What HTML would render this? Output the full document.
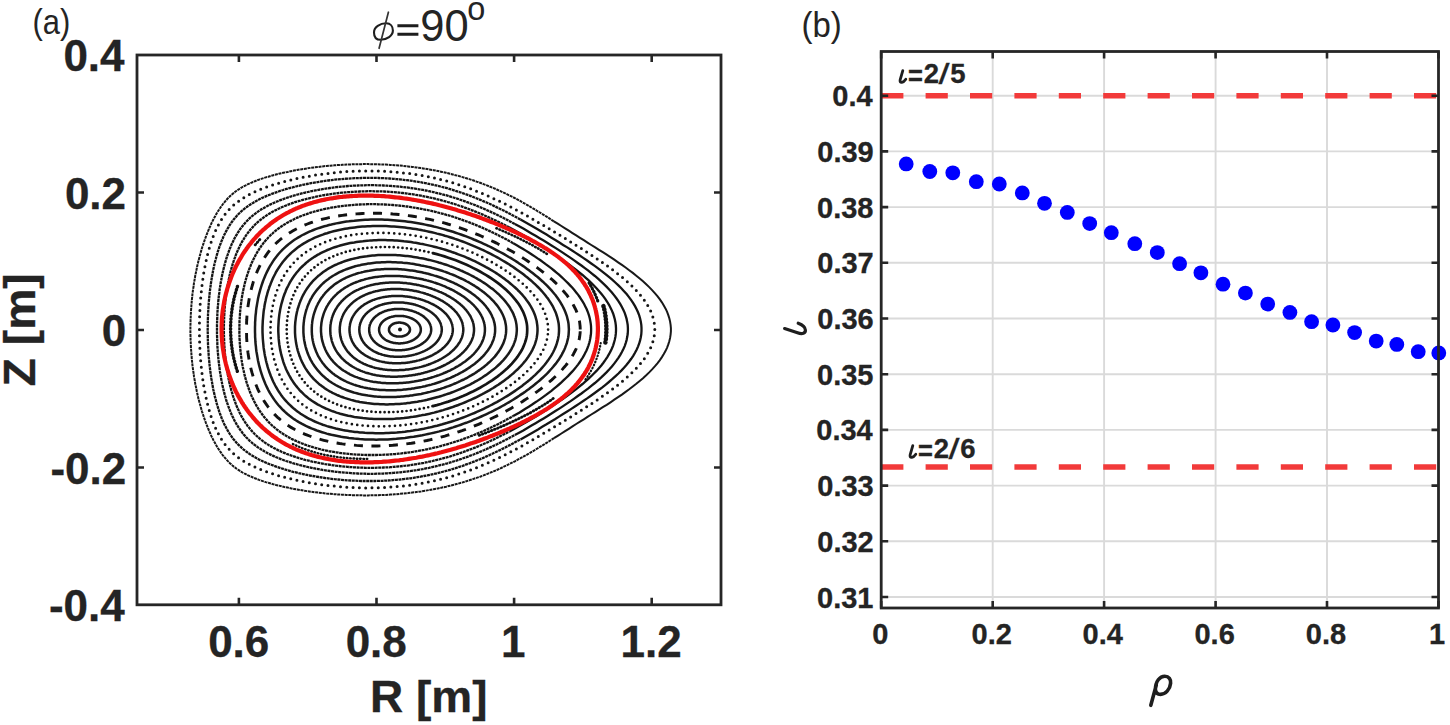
<!DOCTYPE html>
<html><head><meta charset="utf-8"><style>
html,body{margin:0;padding:0;background:#fff;width:1450px;height:725px;overflow:hidden}
svg{display:block}
text{font-family:"Liberation Sans",sans-serif}
</style></head><body>
<svg width="1450" height="725" viewBox="0 0 1450 725">
<rect width="1450" height="725" fill="#fff"/>
<g fill="none">
<path d="M410.0,329.6 410.0,329.5 409.9,329.4 409.9,329.3 409.9,329.1 409.9,329.0 409.9,328.9 409.9,328.8 409.8,328.6 409.8,328.5 409.8,328.4 409.8,328.3 409.7,328.2 409.7,328.1 409.6,327.9 409.6,327.8 409.5,327.7 409.5,327.6 409.4,327.5 409.4,327.4 409.3,327.2 409.2,327.1 409.2,327.0 409.1,326.9 409.0,326.8 409.0,326.7 408.9,326.6 408.8,326.5 408.7,326.4 408.6,326.3 408.5,326.1 408.4,326.0 408.3,325.9 408.2,325.8 408.1,325.7 408.0,325.6 407.9,325.5 407.8,325.4 407.7,325.3 407.6,325.2 407.5,325.1 407.4,325.1 407.2,325.0 407.1,324.9 407.0,324.8 406.9,324.7 406.7,324.6 406.6,324.5 406.5,324.4 406.3,324.4 406.2,324.3 406.0,324.2 405.9,324.1 405.7,324.1 405.6,324.0 405.4,323.9 405.3,323.8 405.1,323.8 405.0,323.7 404.8,323.6 404.7,323.6 404.5,323.5 404.3,323.5 404.2,323.4 404.0,323.3 403.9,323.3 403.7,323.2 403.5,323.2 403.3,323.1 403.2,323.1 403.0,323.1 402.8,323.0 402.7,323.0 402.5,322.9 402.3,322.9 402.1,322.9 401.9,322.8 401.8,322.8 401.6,322.8 401.4,322.8 401.2,322.7 401.0,322.7 400.9,322.7 400.7,322.7 400.5,322.7 400.3,322.6 400.1,322.6 400.0,322.6 399.8,322.6 399.6,322.6 399.4,322.6 399.2,322.6 399.0,322.6 398.9,322.6 398.7,322.6 398.5,322.6 398.3,322.6 398.1,322.7 397.9,322.7 397.8,322.7 397.6,322.7 397.4,322.7 397.2,322.7 397.0,322.8 396.9,322.8 396.7,322.8 396.5,322.9 396.3,322.9 396.2,322.9 396.0,323.0 395.8,323.0 395.7,323.0 395.5,323.1 395.3,323.1 395.1,323.2 395.0,323.2 394.8,323.3 394.7,323.3 394.5,323.4 394.3,323.5 394.2,323.5 394.0,323.6 393.9,323.6 393.7,323.7 393.6,323.8 393.4,323.8 393.3,323.9 393.1,324.0 393.0,324.1 392.8,324.1 392.7,324.2 392.5,324.3 392.4,324.4 392.3,324.5 392.1,324.5 392.0,324.6 391.9,324.7 391.8,324.8 391.6,324.9 391.5,325.0 391.4,325.1 391.3,325.2 391.2,325.3 391.1,325.4 391.0,325.5 390.9,325.6 390.7,325.7 390.6,325.8 390.5,325.9 390.5,326.0 390.4,326.1 390.3,326.2 390.2,326.3 390.1,326.4 390.0,326.5 389.9,326.6 389.9,326.7 389.8,326.8 389.7,327.0 389.7,327.1 389.6,327.2 389.5,327.3 389.5,327.4 389.4,327.5 389.4,327.7 389.3,327.8 389.3,327.9 389.2,328.0 389.2,328.1 389.2,328.3 389.1,328.4 389.1,328.5 389.1,328.6 389.0,328.8 389.0,328.9 389.0,329.0 389.0,329.1 389.0,329.2 389.0,329.4 389.0,329.5 389.0,329.6 389.0,329.7 389.0,329.9 389.0,330.0 389.0,330.1 389.0,330.2 389.0,330.4 389.0,330.5 389.1,330.6 389.1,330.7 389.1,330.8 389.2,331.0 389.2,331.1 389.2,331.2 389.3,331.3 389.3,331.4 389.4,331.6 389.4,331.7 389.5,331.8 389.5,331.9 389.6,332.0 389.7,332.2 389.7,332.3 389.8,332.4 389.9,332.5 389.9,332.6 390.0,332.7 390.1,332.8 390.2,332.9 390.3,333.0 390.4,333.2 390.5,333.3 390.5,333.4 390.6,333.5 390.7,333.6 390.9,333.7 391.0,333.8 391.1,333.9 391.2,334.0 391.3,334.1 391.4,334.2 391.5,334.2 391.6,334.3 391.8,334.4 391.9,334.5 392.0,334.6 392.1,334.7 392.3,334.8 392.4,334.9 392.5,334.9 392.7,335.0 392.8,335.1 393.0,335.2 393.1,335.2 393.3,335.3 393.4,335.4 393.6,335.5 393.7,335.5 393.9,335.6 394.0,335.7 394.2,335.7 394.3,335.8 394.5,335.8 394.7,335.9 394.8,335.9 395.0,336.0 395.1,336.0 395.3,336.1 395.5,336.1 395.7,336.2 395.8,336.2 396.0,336.3 396.2,336.3 396.3,336.3 396.5,336.4 396.7,336.4 396.9,336.4 397.0,336.5 397.2,336.5 397.4,336.5 397.6,336.5 397.8,336.5 397.9,336.6 398.1,336.6 398.3,336.6 398.5,336.6 398.7,336.6 398.9,336.6 399.0,336.6 399.2,336.6 399.4,336.6 399.6,336.6 399.8,336.6 400.0,336.6 400.1,336.6 400.3,336.6 400.5,336.6 400.7,336.6 400.9,336.5 401.0,336.5 401.2,336.5 401.4,336.5 401.6,336.4 401.8,336.4 401.9,336.4 402.1,336.4 402.3,336.3 402.5,336.3 402.7,336.3 402.8,336.2 403.0,336.2 403.2,336.1 403.3,336.1 403.5,336.0 403.7,336.0 403.9,335.9 404.0,335.9 404.2,335.8 404.3,335.8 404.5,335.7 404.7,335.6 404.8,335.6 405.0,335.5 405.1,335.5 405.3,335.4 405.4,335.3 405.6,335.2 405.7,335.2 405.9,335.1 406.0,335.0 406.2,334.9 406.3,334.9 406.5,334.8 406.6,334.7 406.7,334.6 406.9,334.5 407.0,334.4 407.1,334.4 407.2,334.3 407.4,334.2 407.5,334.1 407.6,334.0 407.7,333.9 407.8,333.8 407.9,333.7 408.0,333.6 408.1,333.5 408.2,333.4 408.3,333.3 408.4,333.2 408.5,333.1 408.6,333.0 408.7,332.9 408.8,332.8 408.9,332.7 409.0,332.5 409.0,332.4 409.1,332.3 409.2,332.2 409.2,332.1 409.3,332.0 409.4,331.9 409.4,331.8 409.5,331.6 409.5,331.5 409.6,331.4 409.6,331.3 409.7,331.2 409.7,331.1 409.8,330.9 409.8,330.8 409.8,330.7 409.8,330.6 409.9,330.5 409.9,330.3 409.9,330.2 409.9,330.1 409.9,330.0 409.9,329.9 410.0,329.7 Z" stroke="#1a1a1a" stroke-width="2.5" stroke-linecap="butt"/>
<path d="M420.8,329.6 420.8,329.4 420.8,329.1 420.8,328.9 420.8,328.7 420.8,328.4 420.7,328.2 420.7,328.0 420.6,327.7 420.6,327.5 420.5,327.3 420.5,327.0 420.4,326.8 420.3,326.6 420.2,326.4 420.1,326.1 420.0,325.9 419.9,325.7 419.8,325.4 419.7,325.2 419.6,325.0 419.4,324.8 419.3,324.6 419.2,324.3 419.0,324.1 418.8,323.9 418.7,323.7 418.5,323.5 418.4,323.3 418.2,323.1 418.0,322.9 417.8,322.7 417.6,322.5 417.4,322.3 417.2,322.1 417.0,321.9 416.8,321.7 416.6,321.5 416.3,321.3 416.1,321.1 415.9,320.9 415.6,320.7 415.4,320.6 415.1,320.4 414.9,320.2 414.6,320.0 414.4,319.9 414.1,319.7 413.8,319.5 413.5,319.4 413.3,319.2 413.0,319.1 412.7,318.9 412.4,318.8 412.1,318.6 411.8,318.5 411.5,318.3 411.2,318.2 410.9,318.1 410.6,318.0 410.2,317.8 409.9,317.7 409.6,317.6 409.3,317.5 408.9,317.4 408.6,317.3 408.3,317.2 407.9,317.1 407.6,317.0 407.3,316.9 406.9,316.8 406.6,316.7 406.2,316.6 405.9,316.5 405.5,316.5 405.2,316.4 404.8,316.3 404.5,316.3 404.1,316.2 403.7,316.2 403.4,316.1 403.0,316.1 402.7,316.0 402.3,316.0 401.9,316.0 401.6,315.9 401.2,315.9 400.8,315.9 400.5,315.9 400.1,315.9 399.7,315.9 399.4,315.9 399.0,315.9 398.7,315.9 398.3,315.9 397.9,315.9 397.6,315.9 397.2,315.9 396.8,315.9 396.5,316.0 396.1,316.0 395.8,316.0 395.4,316.1 395.1,316.1 394.7,316.2 394.4,316.2 394.0,316.3 393.7,316.4 393.3,316.4 393.0,316.5 392.6,316.6 392.3,316.7 392.0,316.7 391.6,316.8 391.3,316.9 391.0,317.0 390.6,317.1 390.3,317.2 390.0,317.3 389.7,317.4 389.4,317.6 389.0,317.7 388.7,317.8 388.4,317.9 388.1,318.1 387.8,318.2 387.5,318.3 387.3,318.5 387.0,318.6 386.7,318.8 386.4,318.9 386.1,319.1 385.9,319.2 385.6,319.4 385.3,319.6 385.1,319.7 384.8,319.9 384.6,320.1 384.4,320.2 384.1,320.4 383.9,320.6 383.7,320.8 383.4,321.0 383.2,321.2 383.0,321.4 382.8,321.6 382.6,321.8 382.4,322.0 382.2,322.2 382.0,322.4 381.8,322.6 381.7,322.8 381.5,323.0 381.3,323.2 381.2,323.5 381.0,323.7 380.9,323.9 380.7,324.1 380.6,324.3 380.5,324.6 380.3,324.8 380.2,325.0 380.1,325.3 380.0,325.5 379.9,325.7 379.8,326.0 379.7,326.2 379.6,326.4 379.5,326.7 379.5,326.9 379.4,327.2 379.3,327.4 379.3,327.7 379.2,327.9 379.2,328.1 379.2,328.4 379.1,328.6 379.1,328.9 379.1,329.1 379.1,329.4 379.1,329.6 379.1,329.9 379.1,330.1 379.1,330.4 379.1,330.6 379.2,330.8 379.2,331.1 379.2,331.3 379.3,331.6 379.3,331.8 379.4,332.1 379.5,332.3 379.5,332.5 379.6,332.8 379.7,333.0 379.8,333.3 379.9,333.5 380.0,333.7 380.1,334.0 380.2,334.2 380.3,334.4 380.5,334.7 380.6,334.9 380.7,335.1 380.9,335.3 381.0,335.6 381.2,335.8 381.3,336.0 381.5,336.2 381.7,336.4 381.8,336.6 382.0,336.8 382.2,337.0 382.4,337.3 382.6,337.5 382.8,337.7 383.0,337.9 383.2,338.0 383.4,338.2 383.7,338.4 383.9,338.6 384.1,338.8 384.4,339.0 384.6,339.2 384.8,339.3 385.1,339.5 385.3,339.7 385.6,339.8 385.9,340.0 386.1,340.2 386.4,340.3 386.7,340.5 387.0,340.6 387.3,340.8 387.5,340.9 387.8,341.0 388.1,341.2 388.4,341.3 388.7,341.4 389.0,341.5 389.4,341.7 389.7,341.8 390.0,341.9 390.3,342.0 390.6,342.1 391.0,342.2 391.3,342.3 391.6,342.4 392.0,342.5 392.3,342.6 392.6,342.6 393.0,342.7 393.3,342.8 393.7,342.9 394.0,342.9 394.4,343.0 394.7,343.0 395.1,343.1 395.4,343.1 395.8,343.2 396.1,343.2 396.5,343.3 396.8,343.3 397.2,343.3 397.6,343.3 397.9,343.3 398.3,343.4 398.7,343.4 399.0,343.4 399.4,343.4 399.7,343.4 400.1,343.4 400.5,343.4 400.8,343.3 401.2,343.3 401.6,343.3 401.9,343.3 402.3,343.2 402.7,343.2 403.0,343.2 403.4,343.1 403.7,343.1 404.1,343.0 404.5,343.0 404.8,342.9 405.2,342.8 405.5,342.8 405.9,342.7 406.2,342.6 406.6,342.5 406.9,342.4 407.3,342.4 407.6,342.3 407.9,342.2 408.3,342.1 408.6,342.0 408.9,341.9 409.3,341.7 409.6,341.6 409.9,341.5 410.2,341.4 410.6,341.3 410.9,341.1 411.2,341.0 411.5,340.9 411.8,340.7 412.1,340.6 412.4,340.5 412.7,340.3 413.0,340.2 413.3,340.0 413.5,339.8 413.8,339.7 414.1,339.5 414.4,339.4 414.6,339.2 414.9,339.0 415.1,338.8 415.4,338.7 415.6,338.5 415.9,338.3 416.1,338.1 416.3,337.9 416.6,337.7 416.8,337.6 417.0,337.4 417.2,337.2 417.4,337.0 417.6,336.8 417.8,336.6 418.0,336.4 418.2,336.2 418.4,335.9 418.5,335.7 418.7,335.5 418.8,335.3 419.0,335.1 419.2,334.9 419.3,334.7 419.4,334.4 419.6,334.2 419.7,334.0 419.8,333.8 419.9,333.6 420.0,333.3 420.1,333.1 420.2,332.9 420.3,332.6 420.4,332.4 420.5,332.2 420.5,332.0 420.6,331.7 420.6,331.5 420.7,331.3 420.7,331.0 420.8,330.8 420.8,330.6 420.8,330.3 420.8,330.1 420.8,329.8 Z" stroke="#1a1a1a" stroke-width="2.5" stroke-linecap="butt"/>
<path d="M431.2,329.6 431.2,329.3 431.2,328.9 431.1,328.6 431.1,328.2 431.1,327.9 431.0,327.5 430.9,327.2 430.9,326.8 430.8,326.5 430.7,326.1 430.6,325.8 430.5,325.4 430.4,325.1 430.2,324.8 430.1,324.4 429.9,324.1 429.8,323.8 429.6,323.4 429.4,323.1 429.3,322.8 429.1,322.4 428.9,322.1 428.6,321.8 428.4,321.5 428.2,321.1 428.0,320.8 427.7,320.5 427.5,320.2 427.2,319.9 426.9,319.6 426.6,319.3 426.3,319.0 426.0,318.7 425.7,318.4 425.4,318.1 425.1,317.8 424.8,317.5 424.4,317.2 424.1,316.9 423.7,316.7 423.4,316.4 423.0,316.1 422.6,315.8 422.3,315.6 421.9,315.3 421.5,315.1 421.1,314.8 420.7,314.6 420.3,314.3 419.8,314.1 419.4,313.9 419.0,313.7 418.5,313.4 418.1,313.2 417.6,313.0 417.2,312.8 416.7,312.6 416.3,312.4 415.8,312.2 415.3,312.0 414.8,311.8 414.4,311.6 413.9,311.5 413.4,311.3 412.9,311.1 412.4,311.0 411.9,310.8 411.4,310.7 410.9,310.5 410.4,310.4 409.8,310.3 409.3,310.2 408.8,310.0 408.3,309.9 407.8,309.8 407.2,309.7 406.7,309.6 406.2,309.5 405.6,309.5 405.1,309.4 404.6,309.3 404.0,309.2 403.5,309.2 402.9,309.1 402.4,309.1 401.9,309.0 401.3,309.0 400.8,309.0 400.2,309.0 399.7,308.9 399.1,308.9 398.6,308.9 398.1,308.9 397.5,309.0 397.0,309.0 396.4,309.0 395.9,309.0 395.4,309.1 394.8,309.1 394.3,309.1 393.8,309.2 393.2,309.3 392.7,309.3 392.2,309.4 391.7,309.5 391.2,309.6 390.6,309.7 390.1,309.8 389.6,309.9 389.1,310.0 388.6,310.1 388.1,310.2 387.6,310.3 387.1,310.5 386.6,310.6 386.2,310.8 385.7,310.9 385.2,311.1 384.7,311.2 384.3,311.4 383.8,311.6 383.4,311.8 382.9,312.0 382.5,312.2 382.0,312.4 381.6,312.6 381.2,312.8 380.8,313.0 380.3,313.2 379.9,313.4 379.5,313.7 379.1,313.9 378.7,314.1 378.4,314.4 378.0,314.6 377.6,314.9 377.2,315.2 376.9,315.4 376.5,315.7 376.2,316.0 375.9,316.3 375.5,316.5 375.2,316.8 374.9,317.1 374.6,317.4 374.3,317.7 374.0,318.0 373.7,318.3 373.4,318.6 373.2,319.0 372.9,319.3 372.7,319.6 372.4,319.9 372.2,320.3 372.0,320.6 371.7,320.9 371.5,321.3 371.3,321.6 371.1,322.0 371.0,322.3 370.8,322.7 370.6,323.0 370.5,323.4 370.3,323.7 370.2,324.1 370.0,324.4 369.9,324.8 369.8,325.2 369.7,325.5 369.6,325.9 369.5,326.3 369.4,326.6 369.4,327.0 369.3,327.4 369.3,327.7 369.2,328.1 369.2,328.5 369.2,328.9 369.2,329.2 369.2,329.6 369.2,330.0 369.2,330.4 369.2,330.7 369.2,331.1 369.3,331.5 369.3,331.9 369.4,332.2 369.4,332.6 369.5,333.0 369.6,333.3 369.7,333.7 369.8,334.1 369.9,334.4 370.0,334.8 370.2,335.1 370.3,335.5 370.5,335.9 370.6,336.2 370.8,336.6 371.0,336.9 371.1,337.3 371.3,337.6 371.5,338.0 371.7,338.3 372.0,338.6 372.2,339.0 372.4,339.3 372.7,339.6 372.9,339.9 373.2,340.3 373.4,340.6 373.7,340.9 374.0,341.2 374.3,341.5 374.6,341.8 374.9,342.1 375.2,342.4 375.5,342.7 375.9,343.0 376.2,343.3 376.5,343.5 376.9,343.8 377.2,344.1 377.6,344.3 378.0,344.6 378.4,344.8 378.7,345.1 379.1,345.3 379.5,345.6 379.9,345.8 380.3,346.0 380.8,346.2 381.2,346.5 381.6,346.7 382.0,346.9 382.5,347.1 382.9,347.3 383.4,347.5 383.8,347.6 384.3,347.8 384.7,348.0 385.2,348.2 385.7,348.3 386.2,348.5 386.6,348.6 387.1,348.8 387.6,348.9 388.1,349.0 388.6,349.1 389.1,349.3 389.6,349.4 390.1,349.5 390.6,349.6 391.2,349.7 391.7,349.7 392.2,349.8 392.7,349.9 393.2,350.0 393.8,350.0 394.3,350.1 394.8,350.1 395.4,350.2 395.9,350.2 396.4,350.2 397.0,350.3 397.5,350.3 398.1,350.3 398.6,350.3 399.1,350.3 399.7,350.3 400.2,350.3 400.8,350.2 401.3,350.2 401.9,350.2 402.4,350.1 402.9,350.1 403.5,350.0 404.0,350.0 404.6,349.9 405.1,349.8 405.6,349.8 406.2,349.7 406.7,349.6 407.2,349.5 407.8,349.4 408.3,349.3 408.8,349.2 409.3,349.1 409.8,348.9 410.4,348.8 410.9,348.7 411.4,348.5 411.9,348.4 412.4,348.2 412.9,348.1 413.4,347.9 413.9,347.8 414.4,347.6 414.8,347.4 415.3,347.2 415.8,347.0 416.3,346.8 416.7,346.6 417.2,346.4 417.6,346.2 418.1,346.0 418.5,345.8 419.0,345.6 419.4,345.3 419.8,345.1 420.3,344.9 420.7,344.6 421.1,344.4 421.5,344.1 421.9,343.9 422.3,343.6 422.6,343.4 423.0,343.1 423.4,342.8 423.7,342.6 424.1,342.3 424.4,342.0 424.8,341.7 425.1,341.4 425.4,341.2 425.7,340.9 426.0,340.6 426.3,340.3 426.6,340.0 426.9,339.7 427.2,339.4 427.5,339.0 427.7,338.7 428.0,338.4 428.2,338.1 428.4,337.8 428.6,337.5 428.9,337.1 429.1,336.8 429.3,336.5 429.4,336.1 429.6,335.8 429.8,335.5 429.9,335.1 430.1,334.8 430.2,334.5 430.4,334.1 430.5,333.8 430.6,333.4 430.7,333.1 430.8,332.7 430.9,332.4 430.9,332.1 431.0,331.7 431.1,331.4 431.1,331.0 431.1,330.7 431.2,330.3 431.2,330.0 Z" stroke="#1a1a1a" stroke-width="2.5" stroke-linecap="butt"/>
<path d="M441.8,329.6 441.8,329.2 441.7,328.7 441.7,328.2 441.7,327.8 441.6,327.3 441.5,326.9 441.4,326.4 441.3,326.0 441.2,325.5 441.1,325.1 441.0,324.6 440.8,324.2 440.7,323.7 440.5,323.3 440.3,322.9 440.1,322.4 439.9,322.0 439.7,321.5 439.4,321.1 439.2,320.7 438.9,320.3 438.6,319.8 438.4,319.4 438.1,319.0 437.8,318.6 437.4,318.1 437.1,317.7 436.8,317.3 436.4,316.9 436.0,316.5 435.7,316.1 435.3,315.7 434.9,315.3 434.5,314.9 434.0,314.6 433.6,314.2 433.2,313.8 432.7,313.4 432.3,313.1 431.8,312.7 431.3,312.3 430.8,312.0 430.3,311.6 429.8,311.3 429.3,311.0 428.8,310.6 428.2,310.3 427.7,310.0 427.1,309.7 426.6,309.4 426.0,309.1 425.4,308.8 424.8,308.5 424.2,308.2 423.6,307.9 423.0,307.6 422.4,307.3 421.8,307.1 421.2,306.8 420.5,306.6 419.9,306.3 419.3,306.1 418.6,305.9 417.9,305.6 417.3,305.4 416.6,305.2 415.9,305.0 415.3,304.8 414.6,304.6 413.9,304.5 413.2,304.3 412.5,304.1 411.8,304.0 411.1,303.8 410.4,303.7 409.7,303.5 409.0,303.4 408.3,303.3 407.6,303.2 406.9,303.1 406.2,303.0 405.4,302.9 404.7,302.8 404.0,302.7 403.3,302.6 402.6,302.6 401.8,302.5 401.1,302.5 400.4,302.5 399.7,302.4 399.0,302.4 398.2,302.4 397.5,302.4 396.8,302.4 396.1,302.4 395.4,302.5 394.7,302.5 393.9,302.5 393.2,302.6 392.5,302.6 391.8,302.7 391.1,302.8 390.4,302.9 389.7,303.0 389.0,303.1 388.4,303.2 387.7,303.3 387.0,303.4 386.3,303.5 385.7,303.7 385.0,303.8 384.3,304.0 383.7,304.2 383.0,304.3 382.4,304.5 381.7,304.7 381.1,304.9 380.5,305.1 379.9,305.3 379.2,305.5 378.6,305.8 378.0,306.0 377.4,306.3 376.9,306.5 376.3,306.8 375.7,307.0 375.1,307.3 374.6,307.6 374.0,307.9 373.5,308.2 373.0,308.5 372.4,308.8 371.9,309.1 371.4,309.4 370.9,309.8 370.4,310.1 370.0,310.4 369.5,310.8 369.0,311.2 368.6,311.5 368.1,311.9 367.7,312.3 367.3,312.6 366.9,313.0 366.5,313.4 366.1,313.8 365.7,314.2 365.3,314.6 365.0,315.0 364.6,315.5 364.3,315.9 363.9,316.3 363.6,316.8 363.3,317.2 363.0,317.6 362.7,318.1 362.5,318.5 362.2,319.0 361.9,319.4 361.7,319.9 361.5,320.4 361.3,320.8 361.0,321.3 360.9,321.8 360.7,322.3 360.5,322.7 360.3,323.2 360.2,323.7 360.1,324.2 359.9,324.7 359.8,325.2 359.7,325.7 359.6,326.1 359.5,326.6 359.5,327.1 359.4,327.6 359.4,328.1 359.4,328.6 359.3,329.1 359.3,329.6 359.3,330.1 359.4,330.6 359.4,331.1 359.4,331.6 359.5,332.1 359.5,332.6 359.6,333.1 359.7,333.6 359.8,334.1 359.9,334.6 360.1,335.0 360.2,335.5 360.3,336.0 360.5,336.5 360.7,337.0 360.9,337.5 361.0,337.9 361.3,338.4 361.5,338.9 361.7,339.3 361.9,339.8 362.2,340.2 362.5,340.7 362.7,341.2 363.0,341.6 363.3,342.0 363.6,342.5 363.9,342.9 364.3,343.3 364.6,343.8 365.0,344.2 365.3,344.6 365.7,345.0 366.1,345.4 366.5,345.8 366.9,346.2 367.3,346.6 367.7,347.0 368.1,347.3 368.6,347.7 369.0,348.1 369.5,348.4 370.0,348.8 370.4,349.1 370.9,349.5 371.4,349.8 371.9,350.1 372.4,350.4 373.0,350.7 373.5,351.1 374.0,351.4 374.6,351.6 375.1,351.9 375.7,352.2 376.3,352.5 376.9,352.7 377.4,353.0 378.0,353.2 378.6,353.5 379.2,353.7 379.9,353.9 380.5,354.1 381.1,354.3 381.7,354.5 382.4,354.7 383.0,354.9 383.7,355.1 384.3,355.2 385.0,355.4 385.7,355.5 386.3,355.7 387.0,355.8 387.7,355.9 388.4,356.1 389.0,356.2 389.7,356.3 390.4,356.4 391.1,356.4 391.8,356.5 392.5,356.6 393.2,356.6 393.9,356.7 394.7,356.7 395.4,356.8 396.1,356.8 396.8,356.8 397.5,356.8 398.2,356.8 399.0,356.8 399.7,356.8 400.4,356.8 401.1,356.7 401.8,356.7 402.6,356.6 403.3,356.6 404.0,356.5 404.7,356.4 405.4,356.4 406.2,356.3 406.9,356.2 407.6,356.1 408.3,356.0 409.0,355.8 409.7,355.7 410.4,355.6 411.1,355.4 411.8,355.3 412.5,355.1 413.2,354.9 413.9,354.8 414.6,354.6 415.3,354.4 415.9,354.2 416.6,354.0 417.3,353.8 417.9,353.6 418.6,353.4 419.3,353.1 419.9,352.9 420.5,352.6 421.2,352.4 421.8,352.1 422.4,351.9 423.0,351.6 423.6,351.3 424.2,351.1 424.8,350.8 425.4,350.5 426.0,350.2 426.6,349.9 427.1,349.6 427.7,349.2 428.2,348.9 428.8,348.6 429.3,348.3 429.8,347.9 430.3,347.6 430.8,347.2 431.3,346.9 431.8,346.5 432.3,346.2 432.7,345.8 433.2,345.4 433.6,345.0 434.0,344.7 434.5,344.3 434.9,343.9 435.3,343.5 435.7,343.1 436.0,342.7 436.4,342.3 436.8,341.9 437.1,341.5 437.4,341.1 437.8,340.7 438.1,340.2 438.4,339.8 438.6,339.4 438.9,339.0 439.2,338.5 439.4,338.1 439.7,337.7 439.9,337.2 440.1,336.8 440.3,336.4 440.5,335.9 440.7,335.5 440.8,335.0 441.0,334.6 441.1,334.1 441.2,333.7 441.3,333.2 441.4,332.8 441.5,332.3 441.6,331.9 441.7,331.4 441.7,331.0 441.7,330.5 441.8,330.1 Z" stroke="#1a1a1a" stroke-width="2.5" stroke-linecap="butt"/>
<path d="M452.8,329.6 452.8,329.1 452.8,328.5 452.8,327.9 452.7,327.4 452.6,326.8 452.5,326.3 452.4,325.7 452.3,325.2 452.2,324.6 452.0,324.1 451.8,323.5 451.6,323.0 451.4,322.4 451.2,321.9 451.0,321.3 450.7,320.8 450.5,320.3 450.2,319.7 449.9,319.2 449.6,318.7 449.2,318.1 448.9,317.6 448.5,317.1 448.1,316.6 447.8,316.1 447.4,315.6 446.9,315.0 446.5,314.5 446.1,314.0 445.6,313.6 445.1,313.1 444.6,312.6 444.1,312.1 443.6,311.6 443.1,311.1 442.5,310.7 442.0,310.2 441.4,309.8 440.8,309.3 440.2,308.9 439.6,308.4 439.0,308.0 438.4,307.6 437.7,307.1 437.1,306.7 436.4,306.3 435.7,305.9 435.0,305.5 434.3,305.1 433.6,304.7 432.9,304.3 432.2,304.0 431.4,303.6 430.7,303.3 429.9,302.9 429.2,302.6 428.4,302.2 427.6,301.9 426.8,301.6 426.0,301.3 425.2,301.0 424.4,300.7 423.6,300.4 422.8,300.1 421.9,299.8 421.1,299.6 420.3,299.3 419.4,299.1 418.6,298.8 417.7,298.6 416.8,298.4 416.0,298.2 415.1,298.0 414.2,297.8 413.3,297.6 412.4,297.4 411.5,297.3 410.6,297.1 409.8,297.0 408.9,296.8 408.0,296.7 407.1,296.6 406.1,296.5 405.2,296.4 404.3,296.3 403.4,296.2 402.5,296.1 401.6,296.1 400.7,296.0 399.8,296.0 398.9,296.0 398.0,296.0 397.1,295.9 396.2,295.9 395.3,296.0 394.4,296.0 393.5,296.0 392.6,296.1 391.7,296.1 390.8,296.2 390.0,296.3 389.1,296.3 388.2,296.4 387.3,296.6 386.5,296.7 385.6,296.8 384.8,296.9 383.9,297.1 383.1,297.2 382.2,297.4 381.4,297.6 380.6,297.8 379.7,298.0 378.9,298.2 378.1,298.4 377.3,298.6 376.5,298.9 375.8,299.1 375.0,299.4 374.2,299.7 373.5,299.9 372.7,300.2 372.0,300.5 371.2,300.8 370.5,301.2 369.8,301.5 369.1,301.8 368.4,302.2 367.7,302.5 367.1,302.9 366.4,303.3 365.7,303.6 365.1,304.0 364.5,304.4 363.9,304.8 363.3,305.3 362.7,305.7 362.1,306.1 361.5,306.6 360.9,307.0 360.4,307.5 359.9,307.9 359.3,308.4 358.8,308.9 358.3,309.4 357.8,309.9 357.4,310.4 356.9,310.9 356.5,311.4 356.0,311.9 355.6,312.4 355.2,313.0 354.8,313.5 354.4,314.1 354.1,314.6 353.7,315.2 353.4,315.7 353.0,316.3 352.7,316.9 352.4,317.4 352.1,318.0 351.9,318.6 351.6,319.2 351.4,319.8 351.2,320.4 350.9,321.0 350.7,321.6 350.6,322.2 350.4,322.8 350.2,323.4 350.1,324.0 350.0,324.6 349.9,325.3 349.8,325.9 349.7,326.5 349.6,327.1 349.6,327.7 349.5,328.4 349.5,329.0 349.5,329.6 349.5,330.2 349.5,330.9 349.6,331.5 349.6,332.1 349.7,332.7 349.8,333.3 349.9,334.0 350.0,334.6 350.1,335.2 350.2,335.8 350.4,336.4 350.6,337.0 350.7,337.6 350.9,338.2 351.2,338.8 351.4,339.4 351.6,340.0 351.9,340.6 352.1,341.2 352.4,341.8 352.7,342.4 353.0,342.9 353.4,343.5 353.7,344.1 354.1,344.6 354.4,345.2 354.8,345.7 355.2,346.2 355.6,346.8 356.0,347.3 356.5,347.8 356.9,348.3 357.4,348.9 357.8,349.4 358.3,349.9 358.8,350.3 359.3,350.8 359.9,351.3 360.4,351.8 360.9,352.2 361.5,352.7 362.1,353.1 362.7,353.5 363.3,354.0 363.9,354.4 364.5,354.8 365.1,355.2 365.7,355.6 366.4,356.0 367.1,356.3 367.7,356.7 368.4,357.1 369.1,357.4 369.8,357.7 370.5,358.1 371.2,358.4 372.0,358.7 372.7,359.0 373.5,359.3 374.2,359.6 375.0,359.8 375.8,360.1 376.5,360.3 377.3,360.6 378.1,360.8 378.9,361.0 379.7,361.2 380.6,361.4 381.4,361.6 382.2,361.8 383.1,362.0 383.9,362.1 384.8,362.3 385.6,362.4 386.5,362.6 387.3,362.7 388.2,362.8 389.1,362.9 390.0,363.0 390.8,363.0 391.7,363.1 392.6,363.2 393.5,363.2 394.4,363.2 395.3,363.3 396.2,363.3 397.1,363.3 398.0,363.3 398.9,363.3 399.8,363.2 400.7,363.2 401.6,363.1 402.5,363.1 403.4,363.0 404.3,362.9 405.2,362.9 406.1,362.8 407.1,362.7 408.0,362.5 408.9,362.4 409.8,362.3 410.6,362.1 411.5,362.0 412.4,361.8 413.3,361.6 414.2,361.5 415.1,361.3 416.0,361.1 416.8,360.8 417.7,360.6 418.6,360.4 419.4,360.2 420.3,359.9 421.1,359.7 421.9,359.4 422.8,359.1 423.6,358.8 424.4,358.6 425.2,358.3 426.0,358.0 426.8,357.6 427.6,357.3 428.4,357.0 429.2,356.7 429.9,356.3 430.7,356.0 431.4,355.6 432.2,355.3 432.9,354.9 433.6,354.5 434.3,354.1 435.0,353.7 435.7,353.3 436.4,352.9 437.1,352.5 437.7,352.1 438.4,351.7 439.0,351.2 439.6,350.8 440.2,350.4 440.8,349.9 441.4,349.5 442.0,349.0 442.5,348.5 443.1,348.1 443.6,347.6 444.1,347.1 444.6,346.7 445.1,346.2 445.6,345.7 446.1,345.2 446.5,344.7 446.9,344.2 447.4,343.7 447.8,343.2 448.1,342.6 448.5,342.1 448.9,341.6 449.2,341.1 449.6,340.6 449.9,340.0 450.2,339.5 450.5,339.0 450.7,338.4 451.0,337.9 451.2,337.3 451.4,336.8 451.6,336.3 451.8,335.7 452.0,335.2 452.2,334.6 452.3,334.1 452.4,333.5 452.5,333.0 452.6,332.4 452.7,331.8 452.8,331.3 452.8,330.7 452.8,330.2 Z" stroke="#1a1a1a" stroke-width="2.5" stroke-linecap="butt"/>
<path d="M463.3,329.6 463.3,328.9 463.2,328.3 463.2,327.6 463.1,327.0 463.0,326.3 462.9,325.6 462.8,325.0 462.6,324.3 462.5,323.6 462.3,323.0 462.1,322.3 461.9,321.7 461.6,321.0 461.3,320.4 461.1,319.7 460.7,319.1 460.4,318.4 460.1,317.8 459.7,317.2 459.3,316.5 458.9,315.9 458.5,315.3 458.1,314.7 457.6,314.0 457.2,313.4 456.7,312.8 456.2,312.2 455.6,311.6 455.1,311.0 454.5,310.4 454.0,309.8 453.4,309.2 452.8,308.7 452.1,308.1 451.5,307.5 450.9,307.0 450.2,306.4 449.5,305.9 448.8,305.3 448.1,304.8 447.3,304.3 446.6,303.7 445.8,303.2 445.1,302.7 444.3,302.2 443.5,301.7 442.7,301.2 441.8,300.7 441.0,300.3 440.2,299.8 439.3,299.3 438.4,298.9 437.5,298.5 436.6,298.0 435.7,297.6 434.8,297.2 433.9,296.8 432.9,296.4 432.0,296.0 431.0,295.6 430.1,295.2 429.1,294.9 428.1,294.5 427.1,294.2 426.1,293.9 425.1,293.5 424.1,293.2 423.1,292.9 422.0,292.6 421.0,292.4 420.0,292.1 418.9,291.8 417.9,291.6 416.8,291.3 415.8,291.1 414.7,290.9 413.6,290.7 412.6,290.5 411.5,290.3 410.4,290.2 409.3,290.0 408.3,289.8 407.2,289.7 406.1,289.6 405.0,289.5 403.9,289.4 402.8,289.3 401.7,289.2 400.7,289.1 399.6,289.1 398.5,289.1 397.4,289.0 396.3,289.0 395.2,289.0 394.2,289.0 393.1,289.0 392.0,289.1 391.0,289.1 389.9,289.2 388.8,289.2 387.8,289.3 386.7,289.4 385.7,289.5 384.6,289.7 383.6,289.8 382.6,289.9 381.6,290.1 380.5,290.3 379.5,290.5 378.5,290.7 377.5,290.9 376.6,291.1 375.6,291.3 374.6,291.6 373.7,291.8 372.7,292.1 371.8,292.4 370.8,292.7 369.9,293.0 369.0,293.3 368.1,293.6 367.2,294.0 366.3,294.3 365.5,294.7 364.6,295.1 363.8,295.5 362.9,295.9 362.1,296.3 361.3,296.7 360.5,297.2 359.7,297.6 358.9,298.1 358.2,298.5 357.4,299.0 356.7,299.5 356.0,300.0 355.3,300.5 354.6,301.0 353.9,301.6 353.2,302.1 352.6,302.7 352.0,303.2 351.3,303.8 350.7,304.4 350.1,305.0 349.6,305.6 349.0,306.2 348.5,306.8 347.9,307.4 347.4,308.0 346.9,308.7 346.5,309.3 346.0,310.0 345.5,310.7 345.1,311.3 344.7,312.0 344.3,312.7 343.9,313.4 343.5,314.1 343.2,314.8 342.9,315.5 342.5,316.2 342.2,316.9 342.0,317.6 341.7,318.4 341.4,319.1 341.2,319.8 341.0,320.6 340.8,321.3 340.6,322.0 340.4,322.8 340.3,323.5 340.2,324.3 340.1,325.1 340.0,325.8 339.9,326.6 339.8,327.3 339.8,328.1 339.8,328.9 339.7,329.6 339.8,330.4 339.8,331.1 339.8,331.9 339.9,332.7 340.0,333.4 340.1,334.2 340.2,334.9 340.3,335.7 340.4,336.4 340.6,337.2 340.8,337.9 341.0,338.7 341.2,339.4 341.4,340.1 341.7,340.9 342.0,341.6 342.2,342.3 342.5,343.0 342.9,343.7 343.2,344.5 343.5,345.2 343.9,345.9 344.3,346.5 344.7,347.2 345.1,347.9 345.5,348.6 346.0,349.2 346.5,349.9 346.9,350.5 347.4,351.2 347.9,351.8 348.5,352.4 349.0,353.1 349.6,353.7 350.1,354.3 350.7,354.8 351.3,355.4 352.0,356.0 352.6,356.6 353.2,357.1 353.9,357.7 354.6,358.2 355.3,358.7 356.0,359.2 356.7,359.7 357.4,360.2 358.2,360.7 358.9,361.2 359.7,361.6 360.5,362.1 361.3,362.5 362.1,362.9 362.9,363.3 363.8,363.8 364.6,364.1 365.5,364.5 366.3,364.9 367.2,365.2 368.1,365.6 369.0,365.9 369.9,366.2 370.8,366.6 371.8,366.8 372.7,367.1 373.7,367.4 374.6,367.7 375.6,367.9 376.6,368.1 377.5,368.4 378.5,368.6 379.5,368.8 380.5,369.0 381.6,369.1 382.6,369.3 383.6,369.4 384.6,369.6 385.7,369.7 386.7,369.8 387.8,369.9 388.8,370.0 389.9,370.1 391.0,370.1 392.0,370.2 393.1,370.2 394.2,370.2 395.2,370.2 396.3,370.2 397.4,370.2 398.5,370.2 399.6,370.1 400.7,370.1 401.7,370.0 402.8,369.9 403.9,369.9 405.0,369.8 406.1,369.6 407.2,369.5 408.3,369.4 409.3,369.2 410.4,369.1 411.5,368.9 412.6,368.7 413.6,368.5 414.7,368.3 415.8,368.1 416.8,367.9 417.9,367.6 418.9,367.4 420.0,367.1 421.0,366.9 422.0,366.6 423.1,366.3 424.1,366.0 425.1,365.7 426.1,365.4 427.1,365.0 428.1,364.7 429.1,364.3 430.1,364.0 431.0,363.6 432.0,363.2 432.9,362.8 433.9,362.4 434.8,362.0 435.7,361.6 436.6,361.2 437.5,360.8 438.4,360.3 439.3,359.9 440.2,359.4 441.0,359.0 441.8,358.5 442.7,358.0 443.5,357.5 444.3,357.0 445.1,356.5 445.8,356.0 446.6,355.5 447.3,355.0 448.1,354.4 448.8,353.9 449.5,353.4 450.2,352.8 450.9,352.3 451.5,351.7 452.1,351.1 452.8,350.6 453.4,350.0 454.0,349.4 454.5,348.8 455.1,348.2 455.6,347.6 456.2,347.0 456.7,346.4 457.2,345.8 457.6,345.2 458.1,344.6 458.5,343.9 458.9,343.3 459.3,342.7 459.7,342.1 460.1,341.4 460.4,340.8 460.7,340.1 461.1,339.5 461.3,338.8 461.6,338.2 461.9,337.5 462.1,336.9 462.3,336.2 462.5,335.6 462.6,334.9 462.8,334.3 462.9,333.6 463.0,332.9 463.1,332.3 463.2,331.6 463.2,330.9 463.3,330.3 Z" stroke="#1a1a1a" stroke-width="2.5" stroke-linecap="butt"/>
<path d="M474.0,329.6 474.0,328.8 474.0,328.1 473.9,327.3 473.8,326.6 473.7,325.8 473.6,325.0 473.5,324.3 473.3,323.5 473.1,322.8 472.9,322.0 472.6,321.3 472.3,320.5 472.1,319.8 471.7,319.0 471.4,318.3 471.0,317.5 470.7,316.8 470.3,316.0 469.8,315.3 469.4,314.6 468.9,313.9 468.4,313.1 467.9,312.4 467.4,311.7 466.8,311.0 466.3,310.3 465.7,309.6 465.0,308.9 464.4,308.2 463.8,307.5 463.1,306.9 462.4,306.2 461.7,305.5 460.9,304.9 460.2,304.2 459.4,303.6 458.6,302.9 457.8,302.3 457.0,301.7 456.2,301.0 455.3,300.4 454.4,299.8 453.6,299.2 452.7,298.6 451.7,298.1 450.8,297.5 449.8,296.9 448.9,296.4 447.9,295.8 446.9,295.3 445.9,294.7 444.9,294.2 443.8,293.7 442.8,293.2 441.7,292.7 440.7,292.2 439.6,291.8 438.5,291.3 437.4,290.8 436.2,290.4 435.1,290.0 434.0,289.5 432.8,289.1 431.7,288.7 430.5,288.3 429.3,288.0 428.1,287.6 427.0,287.3 425.8,286.9 424.5,286.6 423.3,286.3 422.1,286.0 420.9,285.7 419.7,285.4 418.4,285.1 417.2,284.9 415.9,284.6 414.7,284.4 413.4,284.2 412.2,284.0 410.9,283.8 409.6,283.6 408.4,283.4 407.1,283.3 405.9,283.1 404.6,283.0 403.3,282.9 402.1,282.8 400.8,282.7 399.5,282.6 398.3,282.6 397.0,282.5 395.7,282.5 394.5,282.5 393.2,282.5 392.0,282.5 390.7,282.6 389.5,282.6 388.2,282.7 387.0,282.7 385.8,282.8 384.6,282.9 383.3,283.0 382.1,283.2 380.9,283.3 379.7,283.5 378.5,283.7 377.4,283.9 376.2,284.1 375.0,284.3 373.9,284.5 372.7,284.8 371.6,285.0 370.5,285.3 369.4,285.6 368.3,285.9 367.2,286.2 366.1,286.6 365.0,286.9 364.0,287.3 362.9,287.7 361.9,288.1 360.9,288.5 359.9,288.9 358.9,289.3 357.9,289.8 356.9,290.2 356.0,290.7 355.0,291.2 354.1,291.7 353.2,292.2 352.3,292.7 351.4,293.3 350.6,293.8 349.7,294.4 348.9,295.0 348.1,295.6 347.3,296.2 346.5,296.8 345.7,297.4 345.0,298.1 344.3,298.7 343.6,299.4 342.9,300.1 342.2,300.8 341.5,301.4 340.9,302.2 340.3,302.9 339.7,303.6 339.1,304.3 338.5,305.1 337.9,305.8 337.4,306.6 336.9,307.4 336.4,308.2 335.9,308.9 335.5,309.7 335.0,310.6 334.6,311.4 334.2,312.2 333.8,313.0 333.5,313.9 333.1,314.7 332.8,315.5 332.5,316.4 332.2,317.2 331.9,318.1 331.7,319.0 331.5,319.8 331.3,320.7 331.1,321.6 330.9,322.5 330.8,323.4 330.6,324.3 330.5,325.1 330.4,326.0 330.4,326.9 330.3,327.8 330.3,328.7 330.3,329.6 330.3,330.5 330.3,331.4 330.4,332.3 330.4,333.2 330.5,334.1 330.6,335.0 330.8,335.9 330.9,336.7 331.1,337.6 331.3,338.5 331.5,339.4 331.7,340.3 331.9,341.1 332.2,342.0 332.5,342.8 332.8,343.7 333.1,344.5 333.5,345.4 333.8,346.2 334.2,347.0 334.6,347.9 335.0,348.7 335.5,349.5 335.9,350.3 336.4,351.1 336.9,351.9 337.4,352.6 337.9,353.4 338.5,354.1 339.1,354.9 339.7,355.6 340.3,356.4 340.9,357.1 341.5,357.8 342.2,358.5 342.9,359.2 343.6,359.8 344.3,360.5 345.0,361.2 345.7,361.8 346.5,362.4 347.3,363.0 348.1,363.6 348.9,364.2 349.7,364.8 350.6,365.4 351.4,365.9 352.3,366.5 353.2,367.0 354.1,367.5 355.0,368.0 356.0,368.5 356.9,369.0 357.9,369.5 358.9,369.9 359.9,370.3 360.9,370.8 361.9,371.2 362.9,371.6 364.0,371.9 365.0,372.3 366.1,372.7 367.2,373.0 368.3,373.3 369.4,373.6 370.5,373.9 371.6,374.2 372.7,374.5 373.9,374.7 375.0,374.9 376.2,375.2 377.4,375.4 378.5,375.6 379.7,375.7 380.9,375.9 382.1,376.0 383.3,376.2 384.6,376.3 385.8,376.4 387.0,376.5 388.2,376.6 389.5,376.6 390.7,376.7 392.0,376.7 393.2,376.7 394.5,376.7 395.7,376.7 397.0,376.7 398.3,376.6 399.5,376.6 400.8,376.5 402.1,376.4 403.3,376.3 404.6,376.2 405.9,376.1 407.1,376.0 408.4,375.8 409.6,375.6 410.9,375.5 412.2,375.3 413.4,375.1 414.7,374.9 415.9,374.6 417.2,374.4 418.4,374.1 419.7,373.9 420.9,373.6 422.1,373.3 423.3,373.0 424.5,372.6 425.8,372.3 427.0,372.0 428.1,371.6 429.3,371.3 430.5,370.9 431.7,370.5 432.8,370.1 434.0,369.7 435.1,369.3 436.2,368.8 437.4,368.4 438.5,367.9 439.6,367.5 440.7,367.0 441.7,366.5 442.8,366.0 443.8,365.5 444.9,365.0 445.9,364.5 446.9,363.9 447.9,363.4 448.9,362.9 449.8,362.3 450.8,361.7 451.7,361.2 452.7,360.6 453.6,360.0 454.4,359.4 455.3,358.8 456.2,358.2 457.0,357.6 457.8,356.9 458.6,356.3 459.4,355.7 460.2,355.0 460.9,354.4 461.7,353.7 462.4,353.0 463.1,352.4 463.8,351.7 464.4,351.0 465.0,350.3 465.7,349.6 466.3,348.9 466.8,348.2 467.4,347.5 467.9,346.8 468.4,346.1 468.9,345.4 469.4,344.6 469.8,343.9 470.3,343.2 470.7,342.4 471.0,341.7 471.4,341.0 471.7,340.2 472.1,339.5 472.3,338.7 472.6,338.0 472.9,337.2 473.1,336.5 473.3,335.7 473.5,334.9 473.6,334.2 473.7,333.4 473.8,332.7 473.9,331.9 474.0,331.1 474.0,330.4 Z" stroke="#1a1a1a" stroke-width="2.5" stroke-linecap="butt"/>
<path d="M484.9,329.6 484.9,328.8 484.9,327.9 484.8,327.0 484.7,326.2 484.6,325.3 484.5,324.4 484.3,323.6 484.1,322.7 483.8,321.9 483.6,321.0 483.3,320.2 483.0,319.3 482.7,318.5 482.3,317.6 481.9,316.8 481.5,316.0 481.1,315.1 480.6,314.3 480.1,313.5 479.6,312.6 479.0,311.8 478.5,311.0 477.9,310.2 477.3,309.4 476.6,308.6 476.0,307.8 475.3,307.0 474.6,306.2 473.9,305.4 473.1,304.7 472.3,303.9 471.5,303.1 470.7,302.4 469.9,301.6 469.0,300.9 468.1,300.2 467.2,299.4 466.3,298.7 465.4,298.0 464.4,297.3 463.4,296.6 462.4,295.9 461.4,295.2 460.4,294.6 459.3,293.9 458.2,293.3 457.1,292.6 456.0,292.0 454.9,291.4 453.8,290.7 452.6,290.1 451.4,289.5 450.3,289.0 449.1,288.4 447.8,287.8 446.6,287.3 445.4,286.7 444.1,286.2 442.8,285.7 441.6,285.2 440.3,284.7 439.0,284.2 437.7,283.7 436.3,283.2 435.0,282.8 433.7,282.4 432.3,281.9 430.9,281.5 429.6,281.1 428.2,280.7 426.8,280.4 425.4,280.0 424.0,279.7 422.6,279.3 421.2,279.0 419.7,278.7 418.3,278.4 416.9,278.2 415.5,277.9 414.0,277.7 412.6,277.4 411.1,277.2 409.7,277.0 408.2,276.9 406.8,276.7 405.3,276.5 403.9,276.4 402.4,276.3 401.0,276.2 399.5,276.1 398.1,276.0 396.7,276.0 395.2,275.9 393.8,275.9 392.3,275.9 390.9,275.9 389.5,275.9 388.1,276.0 386.7,276.0 385.2,276.1 383.8,276.2 382.4,276.3 381.1,276.4 379.7,276.6 378.3,276.7 376.9,276.9 375.6,277.1 374.2,277.3 372.9,277.5 371.6,277.8 370.3,278.0 369.0,278.3 367.7,278.6 366.4,278.9 365.1,279.2 363.9,279.6 362.6,280.0 361.4,280.3 360.2,280.7 359.0,281.1 357.8,281.6 356.6,282.0 355.5,282.5 354.3,282.9 353.2,283.4 352.1,283.9 351.0,284.4 349.9,285.0 348.9,285.5 347.8,286.1 346.8,286.7 345.8,287.3 344.8,287.9 343.8,288.5 342.9,289.2 341.9,289.8 341.0,290.5 340.1,291.2 339.2,291.9 338.4,292.6 337.5,293.3 336.7,294.1 335.9,294.8 335.1,295.6 334.4,296.4 333.6,297.2 332.9,298.0 332.2,298.8 331.5,299.6 330.9,300.5 330.2,301.3 329.6,302.2 329.0,303.1 328.4,304.0 327.9,304.9 327.3,305.8 326.8,306.7 326.3,307.6 325.9,308.6 325.4,309.5 325.0,310.4 324.6,311.4 324.2,312.4 323.8,313.4 323.5,314.3 323.2,315.3 322.9,316.3 322.6,317.3 322.3,318.3 322.1,319.3 321.9,320.4 321.7,321.4 321.5,322.4 321.4,323.4 321.3,324.4 321.2,325.5 321.1,326.5 321.0,327.5 321.0,328.6 321.0,329.6 321.0,330.6 321.0,331.7 321.1,332.7 321.2,333.7 321.3,334.8 321.4,335.8 321.5,336.8 321.7,337.9 321.9,338.9 322.1,339.9 322.3,340.9 322.6,341.9 322.9,342.9 323.2,343.9 323.5,344.9 323.8,345.9 324.2,346.8 324.6,347.8 325.0,348.8 325.4,349.7 325.9,350.7 326.3,351.6 326.8,352.5 327.3,353.5 327.9,354.4 328.4,355.3 329.0,356.2 329.6,357.0 330.2,357.9 330.9,358.8 331.5,359.6 332.2,360.4 332.9,361.2 333.6,362.1 334.4,362.8 335.1,363.6 335.9,364.4 336.7,365.2 337.5,365.9 338.4,366.6 339.2,367.3 340.1,368.0 341.0,368.7 341.9,369.4 342.9,370.1 343.8,370.7 344.8,371.3 345.8,371.9 346.8,372.5 347.8,373.1 348.9,373.7 349.9,374.3 351.0,374.8 352.1,375.3 353.2,375.8 354.3,376.3 355.5,376.8 356.6,377.2 357.8,377.7 359.0,378.1 360.2,378.5 361.4,378.9 362.6,379.3 363.9,379.6 365.1,380.0 366.4,380.3 367.7,380.6 369.0,380.9 370.3,381.2 371.6,381.4 372.9,381.7 374.2,381.9 375.6,382.1 376.9,382.3 378.3,382.5 379.7,382.6 381.1,382.8 382.4,382.9 383.8,383.0 385.2,383.1 386.7,383.2 388.1,383.3 389.5,383.3 390.9,383.3 392.3,383.3 393.8,383.3 395.2,383.3 396.7,383.3 398.1,383.2 399.5,383.1 401.0,383.0 402.4,382.9 403.9,382.8 405.3,382.7 406.8,382.5 408.2,382.4 409.7,382.2 411.1,382.0 412.6,381.8 414.0,381.6 415.5,381.3 416.9,381.1 418.3,380.8 419.7,380.5 421.2,380.2 422.6,379.9 424.0,379.5 425.4,379.2 426.8,378.9 428.2,378.5 429.6,378.1 430.9,377.7 432.3,377.3 433.7,376.9 435.0,376.4 436.3,376.0 437.7,375.5 439.0,375.1 440.3,374.6 441.6,374.1 442.8,373.6 444.1,373.0 445.4,372.5 446.6,372.0 447.8,371.4 449.1,370.8 450.3,370.3 451.4,369.7 452.6,369.1 453.8,368.5 454.9,367.9 456.0,367.2 457.1,366.6 458.2,366.0 459.3,365.3 460.4,364.7 461.4,364.0 462.4,363.3 463.4,362.6 464.4,361.9 465.4,361.2 466.3,360.5 467.2,359.8 468.1,359.1 469.0,358.3 469.9,357.6 470.7,356.8 471.5,356.1 472.3,355.3 473.1,354.6 473.9,353.8 474.6,353.0 475.3,352.2 476.0,351.4 476.6,350.6 477.3,349.8 477.9,349.0 478.5,348.2 479.0,347.4 479.6,346.6 480.1,345.8 480.6,344.9 481.1,344.1 481.5,343.3 481.9,342.4 482.3,341.6 482.7,340.8 483.0,339.9 483.3,339.1 483.6,338.2 483.8,337.4 484.1,336.5 484.3,335.6 484.5,334.8 484.6,333.9 484.7,333.1 484.8,332.2 484.9,331.3 484.9,330.5 Z" stroke="#1a1a1a" stroke-width="2.5" stroke-linecap="butt"/>
<path d="M495.1,329.6 495.1,328.6 495.1,327.7 495.0,326.7 494.9,325.8 494.7,324.8 494.6,323.8 494.4,322.9 494.1,321.9 493.9,321.0 493.6,320.0 493.3,319.0 492.9,318.1 492.5,317.2 492.1,316.2 491.7,315.3 491.2,314.3 490.7,313.4 490.2,312.5 489.6,311.5 489.0,310.6 488.4,309.7 487.8,308.8 487.1,307.9 486.4,307.0 485.7,306.1 485.0,305.2 484.2,304.3 483.4,303.4 482.6,302.6 481.7,301.7 480.8,300.8 479.9,300.0 479.0,299.1 478.1,298.3 477.1,297.5 476.1,296.6 475.1,295.8 474.1,295.0 473.0,294.2 471.9,293.4 470.8,292.6 469.7,291.9 468.5,291.1 467.4,290.3 466.2,289.6 465.0,288.9 463.7,288.1 462.5,287.4 461.2,286.7 460.0,286.0 458.7,285.3 457.4,284.7 456.0,284.0 454.7,283.4 453.3,282.7 451.9,282.1 450.5,281.5 449.1,280.9 447.7,280.3 446.3,279.7 444.8,279.1 443.4,278.6 441.9,278.0 440.4,277.5 438.9,277.0 437.4,276.5 435.9,276.0 434.4,275.6 432.8,275.1 431.3,274.7 429.7,274.2 428.1,273.8 426.6,273.4 425.0,273.1 423.4,272.7 421.8,272.3 420.2,272.0 418.6,271.7 417.0,271.4 415.4,271.1 413.8,270.8 412.1,270.6 410.5,270.4 408.9,270.2 407.3,270.0 405.6,269.8 404.0,269.6 402.4,269.5 400.8,269.3 399.1,269.2 397.5,269.1 395.9,269.1 394.3,269.0 392.7,269.0 391.1,269.0 389.5,269.0 387.9,269.0 386.3,269.0 384.7,269.1 383.1,269.2 381.5,269.3 380.0,269.4 378.4,269.5 376.9,269.6 375.3,269.8 373.8,270.0 372.3,270.2 370.8,270.4 369.3,270.7 367.8,270.9 366.3,271.2 364.9,271.5 363.4,271.9 362.0,272.2 360.6,272.6 359.2,272.9 357.8,273.3 356.4,273.7 355.1,274.2 353.7,274.6 352.4,275.1 351.1,275.6 349.8,276.1 348.6,276.6 347.3,277.2 346.1,277.7 344.9,278.3 343.7,278.9 342.5,279.5 341.3,280.2 340.2,280.8 339.1,281.5 338.0,282.2 336.9,282.9 335.8,283.6 334.8,284.3 333.8,285.1 332.8,285.9 331.8,286.7 330.9,287.5 330.0,288.3 329.0,289.1 328.2,290.0 327.3,290.8 326.5,291.7 325.6,292.6 324.8,293.5 324.1,294.5 323.3,295.4 322.6,296.4 321.9,297.3 321.2,298.3 320.5,299.3 319.9,300.3 319.3,301.3 318.7,302.4 318.1,303.4 317.6,304.5 317.1,305.5 316.6,306.6 316.1,307.7 315.7,308.8 315.3,309.9 314.9,311.0 314.5,312.1 314.1,313.3 313.8,314.4 313.5,315.5 313.2,316.7 313.0,317.9 312.7,319.0 312.5,320.2 312.3,321.3 312.2,322.5 312.1,323.7 311.9,324.9 311.9,326.1 311.8,327.2 311.8,328.4 311.8,329.6 311.8,330.8 311.8,332.0 311.9,333.2 311.9,334.3 312.1,335.5 312.2,336.7 312.3,337.9 312.5,339.0 312.7,340.2 313.0,341.4 313.2,342.5 313.5,343.7 313.8,344.8 314.1,346.0 314.5,347.1 314.9,348.2 315.3,349.3 315.7,350.4 316.1,351.5 316.6,352.6 317.1,353.7 317.6,354.8 318.1,355.8 318.7,356.9 319.3,357.9 319.9,358.9 320.5,359.9 321.2,360.9 321.9,361.9 322.6,362.9 323.3,363.8 324.1,364.8 324.8,365.7 325.6,366.6 326.5,367.5 327.3,368.4 328.2,369.3 329.0,370.1 330.0,370.9 330.9,371.8 331.8,372.6 332.8,373.4 333.8,374.1 334.8,374.9 335.8,375.6 336.9,376.3 338.0,377.0 339.1,377.7 340.2,378.4 341.3,379.1 342.5,379.7 343.7,380.3 344.9,380.9 346.1,381.5 347.3,382.1 348.6,382.6 349.8,383.1 351.1,383.6 352.4,384.1 353.7,384.6 355.1,385.0 356.4,385.5 357.8,385.9 359.2,386.3 360.6,386.7 362.0,387.0 363.4,387.4 364.9,387.7 366.3,388.0 367.8,388.3 369.3,388.5 370.8,388.8 372.3,389.0 373.8,389.2 375.3,389.4 376.9,389.6 378.4,389.7 380.0,389.9 381.5,390.0 383.1,390.1 384.7,390.1 386.3,390.2 387.9,390.2 389.5,390.3 391.1,390.3 392.7,390.2 394.3,390.2 395.9,390.2 397.5,390.1 399.1,390.0 400.8,389.9 402.4,389.8 404.0,389.6 405.6,389.5 407.3,389.3 408.9,389.1 410.5,388.9 412.1,388.6 413.8,388.4 415.4,388.1 417.0,387.8 418.6,387.5 420.2,387.2 421.8,386.9 423.4,386.5 425.0,386.2 426.6,385.8 428.1,385.4 429.7,385.0 431.3,384.6 432.8,384.1 434.4,383.7 435.9,383.2 437.4,382.7 438.9,382.2 440.4,381.7 441.9,381.2 443.4,380.6 444.8,380.1 446.3,379.5 447.7,378.9 449.1,378.4 450.5,377.8 451.9,377.1 453.3,376.5 454.7,375.9 456.0,375.2 457.4,374.6 458.7,373.9 460.0,373.2 461.2,372.5 462.5,371.8 463.7,371.1 465.0,370.4 466.2,369.6 467.4,368.9 468.5,368.1 469.7,367.4 470.8,366.6 471.9,365.8 473.0,365.0 474.1,364.2 475.1,363.4 476.1,362.6 477.1,361.8 478.1,360.9 479.0,360.1 479.9,359.3 480.8,358.4 481.7,357.5 482.6,356.7 483.4,355.8 484.2,354.9 485.0,354.0 485.7,353.1 486.4,352.2 487.1,351.3 487.8,350.4 488.4,349.5 489.0,348.6 489.6,347.7 490.2,346.8 490.7,345.8 491.2,344.9 491.7,344.0 492.1,343.0 492.5,342.1 492.9,341.1 493.3,340.2 493.6,339.2 493.9,338.3 494.1,337.3 494.4,336.4 494.6,335.4 494.7,334.4 494.9,333.5 495.0,332.5 495.1,331.5 495.1,330.6 Z" stroke="#1a1a1a" stroke-width="2.5" stroke-linecap="butt"/>
<path d="M506.2,329.6 506.1,328.5 506.1,327.5 506.0,326.4 505.9,325.4 505.7,324.3 505.5,323.2 505.3,322.2 505.1,321.1 504.8,320.1 504.4,319.0 504.1,318.0 503.7,316.9 503.3,315.9 502.8,314.8 502.3,313.8 501.8,312.8 501.2,311.7 500.6,310.7 500.0,309.7 499.3,308.7 498.7,307.6 497.9,306.6 497.2,305.6 496.4,304.6 495.6,303.7 494.8,302.7 493.9,301.7 493.0,300.7 492.1,299.8 491.2,298.8 490.2,297.9 489.2,296.9 488.1,296.0 487.1,295.1 486.0,294.1 484.9,293.2 483.8,292.3 482.6,291.4 481.4,290.5 480.2,289.7 479.0,288.8 477.7,287.9 476.5,287.1 475.2,286.3 473.9,285.4 472.5,284.6 471.2,283.8 469.8,283.0 468.4,282.2 467.0,281.5 465.5,280.7 464.1,279.9 462.6,279.2 461.1,278.5 459.6,277.8 458.1,277.1 456.5,276.4 455.0,275.7 453.4,275.0 451.8,274.4 450.2,273.8 448.6,273.1 446.9,272.5 445.3,271.9 443.6,271.4 442.0,270.8 440.3,270.3 438.6,269.7 436.9,269.2 435.2,268.7 433.4,268.2 431.7,267.8 430.0,267.3 428.2,266.9 426.4,266.5 424.7,266.1 422.9,265.7 421.1,265.4 419.3,265.0 417.5,264.7 415.8,264.4 414.0,264.1 412.2,263.8 410.4,263.6 408.5,263.3 406.7,263.1 404.9,262.9 403.1,262.8 401.3,262.6 399.5,262.5 397.7,262.4 395.9,262.3 394.1,262.2 392.3,262.2 390.5,262.1 388.8,262.1 387.0,262.1 385.2,262.2 383.5,262.2 381.7,262.3 380.0,262.4 378.2,262.5 376.5,262.6 374.8,262.8 373.1,263.0 371.4,263.2 369.7,263.4 368.1,263.6 366.4,263.9 364.8,264.2 363.1,264.5 361.5,264.8 359.9,265.2 358.4,265.5 356.8,265.9 355.2,266.3 353.7,266.8 352.2,267.2 350.7,267.7 349.2,268.2 347.8,268.7 346.4,269.2 344.9,269.8 343.5,270.4 342.2,271.0 340.8,271.6 339.5,272.2 338.2,272.9 336.9,273.6 335.6,274.3 334.4,275.0 333.1,275.7 331.9,276.5 330.8,277.3 329.6,278.0 328.5,278.9 327.4,279.7 326.3,280.6 325.2,281.4 324.2,282.3 323.2,283.2 322.2,284.2 321.2,285.1 320.3,286.1 319.4,287.1 318.5,288.1 317.6,289.1 316.8,290.1 315.9,291.2 315.2,292.2 314.4,293.3 313.6,294.4 312.9,295.5 312.2,296.6 311.6,297.8 310.9,298.9 310.3,300.1 309.7,301.3 309.2,302.5 308.6,303.7 308.1,304.9 307.6,306.1 307.2,307.4 306.8,308.6 306.3,309.9 306.0,311.2 305.6,312.5 305.3,313.7 305.0,315.0 304.7,316.3 304.5,317.6 304.2,319.0 304.0,320.3 303.9,321.6 303.7,322.9 303.6,324.3 303.5,325.6 303.4,326.9 303.4,328.3 303.4,329.6 303.4,331.0 303.4,332.3 303.5,333.6 303.6,335.0 303.7,336.3 303.9,337.6 304.0,338.9 304.2,340.3 304.5,341.6 304.7,342.9 305.0,344.2 305.3,345.5 305.6,346.8 306.0,348.1 306.3,349.3 306.8,350.6 307.2,351.8 307.6,353.1 308.1,354.3 308.6,355.5 309.2,356.7 309.7,357.9 310.3,359.1 310.9,360.3 311.6,361.4 312.2,362.6 312.9,363.7 313.6,364.8 314.4,365.9 315.2,367.0 315.9,368.1 316.8,369.1 317.6,370.2 318.5,371.2 319.4,372.2 320.3,373.2 321.2,374.1 322.2,375.1 323.2,376.0 324.2,376.9 325.2,377.8 326.3,378.7 327.4,379.5 328.5,380.4 329.6,381.2 330.8,382.0 331.9,382.8 333.1,383.5 334.4,384.2 335.6,385.0 336.9,385.7 338.2,386.3 339.5,387.0 340.8,387.6 342.2,388.3 343.5,388.9 344.9,389.4 346.4,390.0 347.8,390.5 349.2,391.0 350.7,391.5 352.2,392.0 353.7,392.5 355.2,392.9 356.8,393.3 358.4,393.7 359.9,394.1 361.5,394.4 363.1,394.7 364.8,395.0 366.4,395.3 368.1,395.6 369.7,395.8 371.4,396.0 373.1,396.2 374.8,396.4 376.5,396.6 378.2,396.7 380.0,396.8 381.7,396.9 383.5,397.0 385.2,397.1 387.0,397.1 388.8,397.1 390.5,397.1 392.3,397.1 394.1,397.0 395.9,396.9 397.7,396.8 399.5,396.7 401.3,396.6 403.1,396.5 404.9,396.3 406.7,396.1 408.5,395.9 410.4,395.6 412.2,395.4 414.0,395.1 415.8,394.8 417.5,394.5 419.3,394.2 421.1,393.9 422.9,393.5 424.7,393.1 426.4,392.7 428.2,392.3 430.0,391.9 431.7,391.4 433.4,391.0 435.2,390.5 436.9,390.0 438.6,389.5 440.3,389.0 442.0,388.4 443.6,387.9 445.3,387.3 446.9,386.7 448.6,386.1 450.2,385.5 451.8,384.8 453.4,384.2 455.0,383.5 456.5,382.9 458.1,382.2 459.6,381.5 461.1,380.7 462.6,380.0 464.1,379.3 465.5,378.5 467.0,377.8 468.4,377.0 469.8,376.2 471.2,375.4 472.5,374.6 473.9,373.8 475.2,373.0 476.5,372.1 477.7,371.3 479.0,370.4 480.2,369.6 481.4,368.7 482.6,367.8 483.8,366.9 484.9,366.0 486.0,365.1 487.1,364.2 488.1,363.2 489.2,362.3 490.2,361.4 491.2,360.4 492.1,359.5 493.0,358.5 493.9,357.5 494.8,356.6 495.6,355.6 496.4,354.6 497.2,353.6 497.9,352.6 498.7,351.6 499.3,350.6 500.0,349.5 500.6,348.5 501.2,347.5 501.8,346.5 502.3,345.4 502.8,344.4 503.3,343.4 503.7,342.3 504.1,341.3 504.4,340.2 504.8,339.2 505.1,338.1 505.3,337.1 505.5,336.0 505.7,334.9 505.9,333.9 506.0,332.8 506.1,331.7 506.1,330.7 Z" stroke="#1a1a1a" stroke-width="2.5" stroke-linecap="butt"/>
<path d="M516.8,329.6 516.8,328.4 516.7,327.3 516.6,326.1 516.5,324.9 516.3,323.8 516.1,322.6 515.9,321.4 515.6,320.3 515.3,319.1 514.9,318.0 514.5,316.8 514.0,315.7 513.6,314.5 513.1,313.4 512.5,312.2 511.9,311.1 511.3,310.0 510.6,308.8 510.0,307.7 509.2,306.6 508.5,305.5 507.7,304.4 506.8,303.3 506.0,302.2 505.1,301.1 504.2,300.0 503.2,299.0 502.2,297.9 501.2,296.8 500.2,295.8 499.1,294.7 498.0,293.7 496.8,292.7 495.7,291.6 494.5,290.6 493.3,289.6 492.0,288.6 490.7,287.7 489.4,286.7 488.1,285.7 486.8,284.8 485.4,283.8 484.0,282.9 482.6,282.0 481.1,281.0 479.7,280.1 478.2,279.3 476.7,278.4 475.1,277.5 473.6,276.6 472.0,275.8 470.4,275.0 468.8,274.2 467.1,273.3 465.5,272.6 463.8,271.8 462.1,271.0 460.4,270.3 458.7,269.5 457.0,268.8 455.2,268.1 453.4,267.4 451.6,266.7 449.8,266.1 448.0,265.4 446.2,264.8 444.3,264.2 442.5,263.6 440.6,263.0 438.7,262.5 436.8,261.9 434.9,261.4 433.0,260.9 431.1,260.4 429.2,259.9 427.2,259.5 425.3,259.0 423.3,258.6 421.4,258.2 419.4,257.9 417.4,257.5 415.5,257.2 413.5,256.9 411.5,256.6 409.5,256.3 407.5,256.1 405.6,255.9 403.6,255.7 401.6,255.5 399.6,255.3 397.6,255.2 395.6,255.1 393.7,255.0 391.7,254.9 389.7,254.9 387.8,254.9 385.8,254.9 383.9,254.9 382.0,254.9 380.0,255.0 378.1,255.1 376.2,255.2 374.3,255.4 372.4,255.5 370.6,255.7 368.7,255.9 366.9,256.2 365.1,256.4 363.2,256.7 361.5,257.0 359.7,257.3 357.9,257.7 356.2,258.1 354.4,258.5 352.7,258.9 351.1,259.3 349.4,259.8 347.7,260.3 346.1,260.8 344.5,261.3 342.9,261.9 341.4,262.5 339.8,263.1 338.3,263.7 336.8,264.4 335.3,265.0 333.9,265.7 332.5,266.4 331.1,267.2 329.7,267.9 328.3,268.7 327.0,269.5 325.7,270.4 324.4,271.2 323.2,272.1 322.0,273.0 320.8,273.9 319.6,274.9 318.4,275.8 317.3,276.8 316.2,277.8 315.2,278.8 314.1,279.9 313.1,280.9 312.1,282.0 311.2,283.1 310.2,284.3 309.3,285.4 308.5,286.6 307.6,287.7 306.8,288.9 306.0,290.2 305.2,291.4 304.5,292.7 303.8,293.9 303.1,295.2 302.4,296.5 301.8,297.8 301.2,299.2 300.6,300.5 300.1,301.9 299.5,303.3 299.1,304.7 298.6,306.1 298.2,307.5 297.7,308.9 297.4,310.3 297.0,311.8 296.7,313.2 296.4,314.7 296.1,316.2 295.9,317.6 295.7,319.1 295.5,320.6 295.3,322.1 295.2,323.6 295.1,325.1 295.0,326.6 295.0,328.1 295.0,329.6 295.0,331.1 295.0,332.6 295.1,334.1 295.2,335.6 295.3,337.1 295.5,338.6 295.7,340.1 295.9,341.6 296.1,343.1 296.4,344.5 296.7,346.0 297.0,347.5 297.4,348.9 297.7,350.3 298.2,351.8 298.6,353.2 299.1,354.6 299.5,356.0 300.1,357.3 300.6,358.7 301.2,360.1 301.8,361.4 302.4,362.7 303.1,364.0 303.8,365.3 304.5,366.6 305.2,367.8 306.0,369.1 306.8,370.3 307.6,371.5 308.5,372.7 309.3,373.8 310.2,375.0 311.2,376.1 312.1,377.2 313.1,378.3 314.1,379.4 315.2,380.4 316.2,381.4 317.3,382.4 318.4,383.4 319.6,384.4 320.8,385.3 322.0,386.2 323.2,387.1 324.4,388.0 325.7,388.9 327.0,389.7 328.3,390.5 329.7,391.3 331.1,392.0 332.5,392.8 333.9,393.5 335.3,394.2 336.8,394.9 338.3,395.5 339.8,396.2 341.4,396.8 342.9,397.3 344.5,397.9 346.1,398.4 347.7,398.9 349.4,399.4 351.1,399.9 352.7,400.3 354.4,400.8 356.2,401.2 357.9,401.5 359.7,401.9 361.5,402.2 363.2,402.5 365.1,402.8 366.9,403.1 368.7,403.3 370.6,403.5 372.4,403.7 374.3,403.9 376.2,404.0 378.1,404.1 380.0,404.2 382.0,404.3 383.9,404.3 385.8,404.4 387.8,404.4 389.7,404.3 391.7,404.3 393.7,404.2 395.6,404.1 397.6,404.0 399.6,403.9 401.6,403.7 403.6,403.6 405.6,403.4 407.5,403.1 409.5,402.9 411.5,402.6 413.5,402.3 415.5,402.0 417.4,401.7 419.4,401.3 421.4,401.0 423.3,400.6 425.3,400.2 427.2,399.8 429.2,399.3 431.1,398.8 433.0,398.3 434.9,397.8 436.8,397.3 438.7,396.8 440.6,396.2 442.5,395.6 444.3,395.0 446.2,394.4 448.0,393.8 449.8,393.2 451.6,392.5 453.4,391.8 455.2,391.1 457.0,390.4 458.7,389.7 460.4,389.0 462.1,388.2 463.8,387.5 465.5,386.7 467.1,385.9 468.8,385.1 470.4,384.3 472.0,383.4 473.6,382.6 475.1,381.7 476.7,380.9 478.2,380.0 479.7,379.1 481.1,378.2 482.6,377.3 484.0,376.3 485.4,375.4 486.8,374.5 488.1,373.5 489.4,372.5 490.7,371.6 492.0,370.6 493.3,369.6 494.5,368.6 495.7,367.6 496.8,366.6 498.0,365.5 499.1,364.5 500.2,363.5 501.2,362.4 502.2,361.3 503.2,360.3 504.2,359.2 505.1,358.1 506.0,357.0 506.8,355.9 507.7,354.8 508.5,353.7 509.2,352.6 510.0,351.5 510.6,350.4 511.3,349.3 511.9,348.1 512.5,347.0 513.1,345.9 513.6,344.7 514.0,343.6 514.5,342.4 514.9,341.3 515.3,340.1 515.6,338.9 515.9,337.8 516.1,336.6 516.3,335.5 516.5,334.3 516.6,333.1 516.7,332.0 516.8,330.8 Z" stroke="#1a1a1a" stroke-width="2.5" stroke-linecap="butt"/>
<path d="M432.8,406.1 436.8,405.1 440.7,404.0 444.5,402.8 448.3,401.6 452.1,400.3 455.8,398.9 459.4,397.5 463.0,396.0 466.6,394.4 470.0,392.8 473.4,391.2 476.7,389.5 480.0,387.7 483.1,385.9 486.2,384.1 489.2,382.2 492.1,380.3 494.9,378.3 497.7,376.3 500.3,374.3 502.8,372.2 505.3,370.1 507.6,368.0 509.8,365.8 511.9,363.6 513.8,361.4 515.7,359.2 517.4,356.9 519.0,354.6 520.5,352.3 521.8,350.0 523.0,347.6 524.0,345.2 524.9,342.9 525.7,340.5 526.3,338.1 526.8,335.7 527.1,333.2 527.2,330.8 527.2,328.4 527.1,326.0 526.8,323.6 526.3,321.2 525.7,318.8 524.9,316.4 524.0,314.0 523.0,311.6 521.8,309.3 520.5,306.9 519.0,304.6 517.4,302.3 515.7,300.1 513.8,297.8 511.9,295.6 509.8,293.4 507.6,291.2 505.3,289.1 502.8,287.0 500.3,284.9 497.7,282.9 494.9,280.9 492.1,278.9 489.2,277.0 486.2,275.1 483.1,273.3 480.0,271.5 476.7,269.8 473.4,268.1 470.0,266.4 466.6,264.8 463.0,263.3 459.4,261.8 455.8,260.3 452.1,259.0 448.3,257.7 444.5,256.4 440.7,255.2 436.8,254.1 432.8,253.1" stroke="#141414" stroke-width="2.7"/>
<path d="M432.8,253.1 431.3,252.7 429.8,252.4 428.4,252.0 426.9,251.7 425.4,251.4 423.8,251.1 422.3,250.8 420.8,250.5 419.3,250.2 417.8,249.9 416.3,249.7 414.8,249.4 413.2,249.2 411.7,248.9 410.2,248.7 408.7,248.5 407.1,248.3 405.6,248.2 404.1,248.0 402.6,247.9 401.0,247.7 399.5,247.6 398.0,247.5 396.5,247.4 395.0,247.3 393.4,247.2 391.9,247.1 390.4,247.1 388.9,247.0 387.4,247.0 385.9,247.0 384.4,247.0 382.9,247.0 381.4,247.0 379.9,247.1 378.5,247.1 377.0,247.2 375.5,247.3 374.0,247.3 372.6,247.4 371.1,247.6 369.7,247.7 368.3,247.8 366.8,248.0 365.4,248.1 364.0,248.3 362.6,248.5 361.2,248.7 359.8,248.9 358.5,249.1 357.1,249.4 355.7,249.6 354.4,249.9 353.0,250.2 351.7,250.5 350.4,250.8 349.1,251.1 347.8,251.4 346.5,251.8 345.2,252.1 344.0,252.5 342.7,252.9 341.5,253.3 340.3,253.7 339.0,254.1 337.8,254.5 336.6,255.0 335.5,255.4 334.3,255.9 333.1,256.4 332.0,256.9 330.9,257.4 329.8,257.9 328.7,258.4 327.6,259.0 326.5,259.5 325.4,260.1 324.4,260.7 323.3,261.3 322.3,261.9 321.3,262.5 320.3,263.1 319.3,263.8 318.4,264.4 317.4,265.1 316.5,265.8 315.6,266.5 314.7,267.2 313.8,267.9 312.9,268.6 312.0,269.4 311.2,270.1 310.3,270.9 309.5,271.7 308.7,272.5 307.9,273.3 307.1,274.1 306.3,274.9 305.6,275.7 304.9,276.6 304.1,277.4 303.4,278.3 302.7,279.2 302.1,280.1 301.4,281.0 300.7,281.9 300.1,282.8 299.5,283.8 298.9,284.7 298.3,285.7 297.7,286.6 297.1,287.6 296.6,288.6 296.1,289.6 295.5,290.6 295.0,291.6 294.5,292.7 294.1,293.7 293.6,294.7 293.2,295.8 292.7,296.8 292.3,297.9 291.9,299.0 291.5,300.1 291.2,301.2 290.8,302.3 290.5,303.4 290.1,304.5 289.8,305.6 289.5,306.8 289.2,307.9 289.0,309.0 288.7,310.2 288.5,311.3 288.3,312.5 288.0,313.6 287.9,314.8 287.7,316.0 287.5,317.2 287.4,318.3 287.2,319.5 287.1,320.7 287.0,321.9 286.9,323.1 286.8,324.2 286.8,325.4 286.7,326.6 286.7,327.8 286.7,329.0 286.7,330.2 286.7,331.4 286.7,332.6 286.8,333.8 286.8,335.0 286.9,336.2 287.0,337.4 287.1,338.5 287.2,339.7 287.4,340.9 287.5,342.1 287.7,343.2 287.9,344.4 288.0,345.6 288.3,346.7 288.5,347.9 288.7,349.1 289.0,350.2 289.2,351.3 289.5,352.5 289.8,353.6 290.1,354.7 290.5,355.8 290.8,356.9 291.2,358.0 291.5,359.1 291.9,360.2 292.3,361.3 292.7,362.4 293.2,363.4 293.6,364.5 294.1,365.5 294.5,366.6 295.0,367.6 295.5,368.6 296.1,369.6 296.6,370.6 297.1,371.6 297.7,372.6 298.3,373.6 298.9,374.5 299.5,375.5 300.1,376.4 300.7,377.3 301.4,378.2 302.1,379.1 302.7,380.0 303.4,380.9 304.1,381.8 304.9,382.6 305.6,383.5 306.3,384.3 307.1,385.2 307.9,386.0 308.7,386.8 309.5,387.6 310.3,388.3 311.2,389.1 312.0,389.9 312.9,390.6 313.8,391.3 314.7,392.0 315.6,392.7 316.5,393.4 317.4,394.1 318.4,394.8 319.3,395.4 320.3,396.1 321.3,396.7 322.3,397.3 323.3,397.9 324.4,398.5 325.4,399.1 326.5,399.7 327.6,400.2 328.7,400.8 329.8,401.3 330.9,401.8 332.0,402.4 333.1,402.8 334.3,403.3 335.5,403.8 336.6,404.3 337.8,404.7 339.0,405.1 340.3,405.5 341.5,406.0 342.7,406.3 344.0,406.7 345.2,407.1 346.5,407.5 347.8,407.8 349.1,408.1 350.4,408.4 351.7,408.7 353.0,409.0 354.4,409.3 355.7,409.6 357.1,409.8 358.5,410.1 359.8,410.3 361.2,410.5 362.6,410.7 364.0,410.9 365.4,411.1 366.8,411.3 368.3,411.4 369.7,411.5 371.1,411.7 372.6,411.8 374.0,411.9 375.5,412.0 377.0,412.0 378.5,412.1 379.9,412.2 381.4,412.2 382.9,412.2 384.4,412.2 385.9,412.2 387.4,412.2 388.9,412.2 390.4,412.1 391.9,412.1 393.4,412.0 395.0,411.9 396.5,411.9 398.0,411.8 399.5,411.6 401.0,411.5 402.6,411.4 404.1,411.2 405.6,411.1 407.1,410.9 408.7,410.7 410.2,410.5 411.7,410.3 413.2,410.1 414.8,409.8 416.3,409.6 417.8,409.3 419.3,409.0 420.8,408.8 422.3,408.5 423.8,408.2 425.4,407.9 426.9,407.5 428.4,407.2 429.8,406.8 431.3,406.5 432.8,406.1" stroke="#141414" stroke-width="2.7" stroke-linecap="round" stroke-dasharray="0 4.4"/>
<path d="M537.5,329.6 537.5,328.2 537.4,326.9 537.3,325.5 537.1,324.1 536.9,322.7 536.7,321.3 536.4,320.0 536.0,318.6 535.6,317.2 535.2,315.9 534.7,314.5 534.1,313.1 533.6,311.8 532.9,310.4 532.3,309.1 531.6,307.8 530.8,306.4 530.0,305.1 529.2,303.8 528.3,302.5 527.4,301.2 526.4,299.9 525.4,298.6 524.4,297.3 523.3,296.0 522.2,294.7 521.0,293.5 519.9,292.2 518.6,291.0 517.4,289.7 516.1,288.5 514.8,287.3 513.4,286.1 512.0,284.9 510.6,283.7 509.2,282.5 507.7,281.3 506.2,280.2 504.7,279.0 503.1,277.9 501.5,276.7 499.9,275.6 498.3,274.5 496.6,273.4 494.9,272.3 493.2,271.2 491.4,270.2 489.7,269.1 487.9,268.1 486.0,267.1 484.2,266.1 482.3,265.1 480.4,264.1 478.5,263.1 476.6,262.2 474.7,261.2 472.7,260.3 470.7,259.4 468.7,258.5 466.6,257.6 464.6,256.7 462.5,255.9 460.4,255.1 458.3,254.3 456.2,253.5 454.1,252.7 451.9,252.0 449.7,251.2 447.5,250.5 445.3,249.8 443.1,249.1 440.9,248.5 438.6,247.9 436.4,247.3 434.1,246.7 431.8,246.1 429.6,245.6 427.3,245.1 425.0,244.6 422.6,244.1 420.3,243.7 418.0,243.2 415.7,242.8 413.3,242.5 411.0,242.1 408.7,241.8 406.3,241.5 404.0,241.3 401.6,241.0 399.3,240.8 397.0,240.6 394.6,240.5 392.3,240.3 390.0,240.2 387.6,240.2 385.3,240.1 383.0,240.1 380.7,240.1 378.5,240.1 376.2,240.2 373.9,240.3 371.7,240.4 369.5,240.6 367.2,240.7 365.0,240.9 362.9,241.2 360.7,241.4 358.6,241.7 356.4,242.0 354.3,242.4 352.3,242.7 350.2,243.1 348.2,243.5 346.1,244.0 344.1,244.5 342.2,245.0 340.2,245.5 338.3,246.1 336.4,246.7 334.6,247.3 332.7,247.9 330.9,248.6 329.2,249.3 327.4,250.0 325.7,250.8 324.0,251.6 322.3,252.4 320.7,253.2 319.1,254.1 317.5,254.9 316.0,255.9 314.4,256.8 313.0,257.8 311.5,258.8 310.1,259.8 308.7,260.8 307.3,261.9 306.0,263.0 304.7,264.2 303.4,265.3 302.2,266.5 301.0,267.7 299.8,268.9 298.7,270.2 297.6,271.5 296.5,272.8 295.4,274.2 294.4,275.5 293.4,276.9 292.5,278.3 291.5,279.8 290.7,281.2 289.8,282.7 289.0,284.2 288.2,285.8 287.4,287.3 286.6,288.9 285.9,290.5 285.3,292.2 284.6,293.8 284.0,295.5 283.4,297.1 282.9,298.8 282.4,300.6 281.9,302.3 281.4,304.0 281.0,305.8 280.6,307.6 280.2,309.4 279.9,311.2 279.6,313.0 279.3,314.8 279.1,316.6 278.9,318.5 278.7,320.3 278.6,322.2 278.5,324.0 278.4,325.9 278.3,327.8 278.3,329.6 278.3,331.5 278.4,333.3 278.5,335.2 278.6,337.1 278.7,338.9 278.9,340.8 279.1,342.6 279.3,344.4 279.6,346.2 279.9,348.1 280.2,349.9 280.6,351.6 281.0,353.4 281.4,355.2 281.9,356.9 282.4,358.7 282.9,360.4 283.4,362.1 284.0,363.8 284.6,365.4 285.3,367.1 285.9,368.7 286.6,370.3 287.4,371.9 288.2,373.4 289.0,375.0 289.8,376.5 290.7,378.0 291.5,379.4 292.5,380.9 293.4,382.3 294.4,383.7 295.4,385.1 296.5,386.4 297.6,387.7 298.7,389.0 299.8,390.3 301.0,391.5 302.2,392.7 303.4,393.9 304.7,395.1 306.0,396.2 307.3,397.3 308.7,398.4 310.1,399.4 311.5,400.5 313.0,401.5 314.4,402.4 316.0,403.4 317.5,404.3 319.1,405.2 320.7,406.0 322.3,406.9 324.0,407.7 325.7,408.5 327.4,409.2 329.2,409.9 330.9,410.6 332.7,411.3 334.6,411.9 336.4,412.6 338.3,413.1 340.2,413.7 342.2,414.2 344.1,414.7 346.1,415.2 348.2,415.7 350.2,416.1 352.3,416.5 354.3,416.9 356.4,417.2 358.6,417.5 360.7,417.8 362.9,418.1 365.0,418.3 367.2,418.5 369.5,418.7 371.7,418.8 373.9,418.9 376.2,419.0 378.5,419.1 380.7,419.1 383.0,419.1 385.3,419.1 387.6,419.1 390.0,419.0 392.3,418.9 394.6,418.8 397.0,418.6 399.3,418.4 401.6,418.2 404.0,418.0 406.3,417.7 408.7,417.4 411.0,417.1 413.3,416.8 415.7,416.4 418.0,416.0 420.3,415.6 422.6,415.1 425.0,414.7 427.3,414.2 429.6,413.7 431.8,413.1 434.1,412.6 436.4,412.0 438.6,411.4 440.9,410.7 443.1,410.1 445.3,409.4 447.5,408.7 449.7,408.0 451.9,407.3 454.1,406.5 456.2,405.7 458.3,405.0 460.4,404.1 462.5,403.3 464.6,402.5 466.6,401.6 468.7,400.7 470.7,399.8 472.7,398.9 474.7,398.0 476.6,397.1 478.5,396.1 480.4,395.1 482.3,394.2 484.2,393.2 486.0,392.2 487.9,391.1 489.7,390.1 491.4,389.0 493.2,388.0 494.9,386.9 496.6,385.8 498.3,384.7 499.9,383.6 501.5,382.5 503.1,381.4 504.7,380.2 506.2,379.1 507.7,377.9 509.2,376.7 510.6,375.6 512.0,374.4 513.4,373.2 514.8,371.9 516.1,370.7 517.4,369.5 518.6,368.3 519.9,367.0 521.0,365.8 522.2,364.5 523.3,363.2 524.4,361.9 525.4,360.7 526.4,359.4 527.4,358.1 528.3,356.8 529.2,355.4 530.0,354.1 530.8,352.8 531.6,351.5 532.3,350.1 532.9,348.8 533.6,347.4 534.1,346.1 534.7,344.7 535.2,343.4 535.6,342.0 536.0,340.6 536.4,339.3 536.7,337.9 536.9,336.5 537.1,335.1 537.3,333.8 537.4,332.4 537.5,331.0 Z" stroke="#1a1a1a" stroke-width="2.5" stroke-linecap="butt"/>
<path d="M548.1,329.6 548.1,328.1 548.0,326.6 547.9,325.2 547.7,323.7 547.5,322.2 547.2,320.7 546.8,319.3 546.4,317.8 546.0,316.3 545.5,314.9 545.0,313.4 544.4,311.9 543.8,310.5 543.1,309.0 542.3,307.6 541.6,306.2 540.7,304.7 539.9,303.3 538.9,301.9 538.0,300.5 537.0,299.1 535.9,297.7 534.8,296.3 533.7,294.9 532.5,293.6 531.3,292.2 530.1,290.9 528.8,289.5 527.5,288.2 526.1,286.9 524.7,285.5 523.3,284.2 521.8,282.9 520.3,281.7 518.8,280.4 517.3,279.1 515.7,277.9 514.1,276.6 512.4,275.4 510.7,274.1 509.0,272.9 507.3,271.7 505.5,270.5 503.7,269.4 501.9,268.2 500.1,267.0 498.2,265.9 496.3,264.8 494.4,263.6 492.4,262.5 490.4,261.4 488.5,260.4 486.4,259.3 484.4,258.3 482.3,257.2 480.2,256.2 478.1,255.2 476.0,254.2 473.9,253.2 471.7,252.3 469.5,251.4 467.3,250.4 465.0,249.5 462.8,248.6 460.5,247.8 458.2,246.9 455.9,246.1 453.6,245.3 451.3,244.5 448.9,243.8 446.5,243.0 444.1,242.3 441.7,241.6 439.3,240.9 436.9,240.3 434.4,239.7 432.0,239.1 429.5,238.5 427.0,238.0 424.5,237.4 422.1,237.0 419.6,236.5 417.0,236.0 414.5,235.6 412.0,235.2 409.5,234.9 407.0,234.6 404.4,234.3 401.9,234.0 399.4,233.8 396.9,233.5 394.4,233.4 391.9,233.2 389.4,233.1 386.9,233.0 384.4,232.9 381.9,232.9 379.4,232.9 377.0,232.9 374.5,233.0 372.1,233.1 369.7,233.2 367.3,233.4 364.9,233.5 362.5,233.7 360.2,234.0 357.8,234.2 355.5,234.5 353.3,234.9 351.0,235.2 348.8,235.6 346.6,236.0 344.4,236.5 342.2,237.0 340.1,237.5 338.0,238.0 335.9,238.6 333.9,239.2 331.8,239.8 329.9,240.4 327.9,241.1 326.0,241.8 324.1,242.6 322.2,243.3 320.4,244.1 318.6,245.0 316.8,245.8 315.1,246.7 313.4,247.6 311.7,248.6 310.1,249.5 308.5,250.5 306.9,251.6 305.4,252.6 303.9,253.7 302.4,254.8 301.0,256.0 299.6,257.2 298.2,258.4 296.9,259.6 295.6,260.9 294.3,262.2 293.1,263.5 291.9,264.8 290.7,266.2 289.6,267.6 288.5,269.1 287.4,270.6 286.4,272.1 285.4,273.6 284.4,275.1 283.4,276.7 282.5,278.3 281.7,280.0 280.8,281.6 280.0,283.3 279.2,285.1 278.5,286.8 277.8,288.6 277.1,290.4 276.5,292.2 275.9,294.0 275.3,295.9 274.7,297.7 274.2,299.6 273.8,301.5 273.3,303.5 272.9,305.4 272.5,307.4 272.2,309.4 271.8,311.3 271.6,313.3 271.3,315.4 271.1,317.4 270.9,319.4 270.8,321.4 270.7,323.5 270.6,325.5 270.5,327.6 270.5,329.6 270.5,331.7 270.6,333.7 270.7,335.8 270.8,337.8 270.9,339.8 271.1,341.9 271.3,343.9 271.6,345.9 271.8,347.9 272.2,349.9 272.5,351.9 272.9,353.8 273.3,355.8 273.8,357.7 274.2,359.6 274.7,361.5 275.3,363.4 275.9,365.2 276.5,367.1 277.1,368.9 277.8,370.7 278.5,372.4 279.2,374.2 280.0,375.9 280.8,377.6 281.7,379.2 282.5,380.9 283.4,382.5 284.4,384.1 285.4,385.6 286.4,387.2 287.4,388.7 288.5,390.1 289.6,391.6 290.7,393.0 291.9,394.4 293.1,395.7 294.3,397.1 295.6,398.4 296.9,399.6 298.2,400.9 299.6,402.1 301.0,403.3 302.4,404.4 303.9,405.5 305.4,406.6 306.9,407.7 308.5,408.7 310.1,409.7 311.7,410.7 313.4,411.6 315.1,412.5 316.8,413.4 318.6,414.3 320.4,415.1 322.2,415.9 324.1,416.7 326.0,417.4 327.9,418.1 329.9,418.8 331.8,419.4 333.9,420.1 335.9,420.7 338.0,421.2 340.1,421.8 342.2,422.3 344.4,422.7 346.6,423.2 348.8,423.6 351.0,424.0 353.3,424.4 355.5,424.7 357.8,425.0 360.2,425.2 362.5,425.5 364.9,425.7 367.3,425.9 369.7,426.0 372.1,426.1 374.5,426.2 377.0,426.3 379.4,426.3 381.9,426.3 384.4,426.3 386.9,426.2 389.4,426.1 391.9,426.0 394.4,425.9 396.9,425.7 399.4,425.5 401.9,425.2 404.4,425.0 407.0,424.7 409.5,424.3 412.0,424.0 414.5,423.6 417.0,423.2 419.6,422.7 422.1,422.3 424.5,421.8 427.0,421.3 429.5,420.7 432.0,420.1 434.4,419.5 436.9,418.9 439.3,418.3 441.7,417.6 444.1,416.9 446.5,416.2 448.9,415.5 451.3,414.7 453.6,413.9 455.9,413.1 458.2,412.3 460.5,411.4 462.8,410.6 465.0,409.7 467.3,408.8 469.5,407.9 471.7,406.9 473.9,406.0 476.0,405.0 478.1,404.0 480.2,403.0 482.3,402.0 484.4,401.0 486.4,399.9 488.5,398.9 490.4,397.8 492.4,396.7 494.4,395.6 496.3,394.5 498.2,393.3 500.1,392.2 501.9,391.0 503.7,389.9 505.5,388.7 507.3,387.5 509.0,386.3 510.7,385.1 512.4,383.9 514.1,382.6 515.7,381.4 517.3,380.1 518.8,378.8 520.3,377.6 521.8,376.3 523.3,375.0 524.7,373.7 526.1,372.4 527.5,371.0 528.8,369.7 530.1,368.4 531.3,367.0 532.5,365.6 533.7,364.3 534.8,362.9 535.9,361.5 537.0,360.1 538.0,358.7 538.9,357.3 539.9,355.9 540.7,354.5 541.6,353.1 542.3,351.6 543.1,350.2 543.8,348.7 544.4,347.3 545.0,345.8 545.5,344.4 546.0,342.9 546.4,341.4 546.8,340.0 547.2,338.5 547.5,337.0 547.7,335.5 547.9,334.1 548.0,332.6 548.1,331.1 Z" stroke="#141414" stroke-width="2.7" stroke-linecap="round" stroke-dasharray="0 5.4"/>
<path d="M559.0,329.6 559.0,328.0 558.9,326.5 558.8,324.9 558.6,323.3 558.3,321.7 558.0,320.2 557.6,318.6 557.2,317.0 556.7,315.5 556.2,313.9 555.6,312.3 554.9,310.8 554.2,309.3 553.5,307.7 552.7,306.2 551.8,304.7 550.9,303.2 549.9,301.6 548.9,300.1 547.9,298.6 546.8,297.2 545.7,295.7 544.5,294.2 543.2,292.7 542.0,291.3 540.7,289.9 539.3,288.4 537.9,287.0 536.5,285.6 535.0,284.2 533.5,282.8 532.0,281.4 530.4,280.0 528.8,278.7 527.1,277.3 525.4,276.0 523.7,274.6 522.0,273.3 520.2,272.0 518.4,270.7 516.6,269.4 514.7,268.1 512.8,266.8 510.9,265.6 509.0,264.3 507.0,263.1 505.0,261.9 503.0,260.7 500.9,259.5 498.9,258.3 496.8,257.1 494.7,256.0 492.5,254.8 490.3,253.7 488.1,252.6 485.9,251.5 483.7,250.4 481.4,249.4 479.1,248.3 476.8,247.3 474.5,246.3 472.1,245.3 469.7,244.3 467.3,243.3 464.9,242.4 462.5,241.5 460.0,240.6 457.6,239.7 455.1,238.9 452.5,238.0 450.0,237.2 447.4,236.4 444.9,235.7 442.3,234.9 439.7,234.2 437.1,233.6 434.4,232.9 431.8,232.3 429.1,231.7 426.5,231.1 423.8,230.6 421.1,230.0 418.4,229.6 415.7,229.1 413.0,228.7 410.3,228.3 407.6,227.9 404.9,227.6 402.2,227.3 399.5,227.0 396.8,226.8 394.0,226.6 391.3,226.4 388.6,226.2 386.0,226.1 383.3,226.1 380.6,226.0 377.9,226.0 375.3,226.0 372.7,226.1 370.1,226.2 367.5,226.3 364.9,226.4 362.3,226.6 359.8,226.8 357.3,227.1 354.8,227.4 352.3,227.7 349.8,228.0 347.4,228.4 345.0,228.8 342.7,229.2 340.3,229.7 338.0,230.2 335.8,230.7 333.5,231.3 331.3,231.9 329.1,232.5 327.0,233.2 324.9,233.8 322.8,234.6 320.7,235.3 318.7,236.1 316.8,236.9 314.8,237.7 312.9,238.6 311.1,239.5 309.2,240.4 307.4,241.4 305.7,242.4 303.9,243.4 302.3,244.4 300.6,245.5 299.0,246.6 297.4,247.8 295.9,249.0 294.4,250.2 292.9,251.4 291.5,252.7 290.1,254.0 288.7,255.3 287.4,256.7 286.1,258.1 284.8,259.6 283.6,261.0 282.4,262.5 281.3,264.1 280.2,265.6 279.1,267.2 278.0,268.9 277.0,270.5 276.0,272.2 275.1,274.0 274.2,275.7 273.3,277.5 272.5,279.3 271.7,281.2 270.9,283.1 270.2,285.0 269.4,286.9 268.8,288.8 268.1,290.8 267.5,292.8 267.0,294.9 266.4,296.9 265.9,299.0 265.5,301.1 265.0,303.2 264.6,305.4 264.3,307.5 263.9,309.7 263.6,311.9 263.4,314.0 263.2,316.2 263.0,318.5 262.8,320.7 262.7,322.9 262.6,325.1 262.5,327.4 262.5,329.6 262.5,331.9 262.6,334.1 262.7,336.3 262.8,338.5 263.0,340.8 263.2,343.0 263.4,345.2 263.6,347.4 263.9,349.6 264.3,351.7 264.6,353.9 265.0,356.0 265.5,358.1 265.9,360.2 266.4,362.3 267.0,364.4 267.5,366.4 268.1,368.4 268.8,370.4 269.4,372.3 270.2,374.3 270.9,376.2 271.7,378.1 272.5,379.9 273.3,381.7 274.2,383.5 275.1,385.3 276.0,387.0 277.0,388.7 278.0,390.4 279.1,392.0 280.2,393.6 281.3,395.2 282.4,396.7 283.6,398.2 284.8,399.7 286.1,401.1 287.4,402.5 288.7,403.9 290.1,405.2 291.5,406.5 292.9,407.8 294.4,409.1 295.9,410.3 297.4,411.4 299.0,412.6 300.6,413.7 302.3,414.8 303.9,415.8 305.7,416.9 307.4,417.9 309.2,418.8 311.1,419.7 312.9,420.6 314.8,421.5 316.8,422.3 318.7,423.2 320.7,423.9 322.8,424.7 324.9,425.4 327.0,426.1 329.1,426.7 331.3,427.3 333.5,427.9 335.8,428.5 338.0,429.0 340.3,429.5 342.7,430.0 345.0,430.4 347.4,430.8 349.8,431.2 352.3,431.6 354.8,431.9 357.3,432.1 359.8,432.4 362.3,432.6 364.9,432.8 367.5,432.9 370.1,433.1 372.7,433.1 375.3,433.2 377.9,433.2 380.6,433.2 383.3,433.2 386.0,433.1 388.6,433.0 391.3,432.8 394.0,432.7 396.8,432.5 399.5,432.2 402.2,432.0 404.9,431.7 407.6,431.3 410.3,431.0 413.0,430.6 415.7,430.1 418.4,429.7 421.1,429.2 423.8,428.7 426.5,428.1 429.1,427.6 431.8,427.0 434.4,426.3 437.1,425.7 439.7,425.0 442.3,424.3 444.9,423.5 447.4,422.8 450.0,422.0 452.5,421.2 455.1,420.4 457.6,419.5 460.0,418.6 462.5,417.7 464.9,416.8 467.3,415.9 469.7,414.9 472.1,413.9 474.5,413.0 476.8,411.9 479.1,410.9 481.4,409.9 483.7,408.8 485.9,407.7 488.1,406.6 490.3,405.5 492.5,404.4 494.7,403.2 496.8,402.1 498.9,400.9 500.9,399.7 503.0,398.5 505.0,397.3 507.0,396.1 509.0,394.9 510.9,393.6 512.8,392.4 514.7,391.1 516.6,389.8 518.4,388.5 520.2,387.2 522.0,385.9 523.7,384.6 525.4,383.3 527.1,381.9 528.8,380.6 530.4,379.2 532.0,377.8 533.5,376.4 535.0,375.1 536.5,373.6 537.9,372.2 539.3,370.8 540.7,369.4 542.0,367.9 543.2,366.5 544.5,365.0 545.7,363.5 546.8,362.1 547.9,360.6 548.9,359.1 549.9,357.6 550.9,356.1 551.8,354.6 552.7,353.0 553.5,351.5 554.2,350.0 554.9,348.4 555.6,346.9 556.2,345.3 556.7,343.8 557.2,342.2 557.6,340.6 558.0,339.1 558.3,337.5 558.6,335.9 558.8,334.3 558.9,332.8 559.0,331.2 Z" stroke="#1a1a1a" stroke-width="2.5" stroke-linecap="butt"/>
<path d="M568.9,329.6 568.8,327.9 568.7,326.3 568.6,324.6 568.4,322.9 568.1,321.3 567.7,319.6 567.3,318.0 566.9,316.3 566.3,314.6 565.7,313.0 565.1,311.4 564.4,309.7 563.6,308.1 562.8,306.5 561.9,304.9 561.0,303.3 560.0,301.7 559.0,300.1 557.9,298.5 556.8,296.9 555.6,295.3 554.3,293.8 553.0,292.2 551.7,290.7 550.3,289.2 548.9,287.7 547.5,286.2 546.0,284.7 544.4,283.2 542.9,281.7 541.2,280.2 539.6,278.8 537.9,277.3 536.2,275.9 534.4,274.5 532.6,273.1 530.8,271.7 529.0,270.3 527.1,268.9 525.2,267.5 523.2,266.1 521.2,264.8 519.2,263.5 517.2,262.1 515.2,260.8 513.1,259.5 511.0,258.2 508.8,257.0 506.7,255.7 504.5,254.4 502.3,253.2 500.0,252.0 497.8,250.8 495.5,249.6 493.2,248.4 490.8,247.2 488.5,246.0 486.1,244.9 483.7,243.8 481.3,242.7 478.8,241.6 476.3,240.5 473.8,239.5 471.3,238.4 468.7,237.4 466.2,236.4 463.6,235.5 460.9,234.5 458.3,233.6 455.6,232.7 453.0,231.8 450.3,231.0 447.5,230.2 444.8,229.4 442.0,228.6 439.3,227.9 436.5,227.1 433.7,226.5 430.9,225.8 428.0,225.2 425.2,224.6 422.3,224.0 419.5,223.5 416.6,223.0 413.7,222.5 410.8,222.1 407.9,221.7 405.0,221.3 402.1,221.0 399.2,220.7 396.3,220.4 393.5,220.2 390.6,220.0 387.7,219.8 384.8,219.7 382.0,219.6 379.1,219.6 376.3,219.6 373.5,219.6 370.7,219.6 367.9,219.7 365.1,219.8 362.3,220.0 359.6,220.2 356.9,220.4 354.2,220.7 351.6,220.9 348.9,221.3 346.4,221.6 343.8,222.0 341.2,222.4 338.7,222.9 336.3,223.4 333.8,223.9 331.4,224.5 329.0,225.0 326.7,225.7 324.4,226.3 322.1,227.0 319.9,227.7 317.7,228.4 315.6,229.2 313.5,230.0 311.4,230.9 309.4,231.7 307.4,232.6 305.4,233.6 303.5,234.5 301.6,235.5 299.8,236.6 298.0,237.6 296.2,238.7 294.5,239.8 292.8,241.0 291.2,242.2 289.6,243.4 288.0,244.7 286.5,246.0 285.0,247.3 283.6,248.7 282.1,250.1 280.8,251.5 279.4,253.0 278.1,254.5 276.9,256.1 275.6,257.7 274.4,259.3 273.3,260.9 272.2,262.6 271.1,264.4 270.0,266.1 269.0,267.9 268.0,269.8 267.1,271.6 266.2,273.5 265.3,275.5 264.5,277.4 263.7,279.4 262.9,281.5 262.2,283.5 261.5,285.6 260.8,287.8 260.2,289.9 259.6,292.1 259.0,294.3 258.5,296.6 258.0,298.8 257.6,301.1 257.2,303.4 256.8,305.7 256.4,308.0 256.1,310.4 255.9,312.8 255.6,315.2 255.4,317.5 255.3,319.9 255.1,322.4 255.1,324.8 255.0,327.2 255.0,329.6 255.0,332.0 255.1,334.5 255.1,336.9 255.3,339.3 255.4,341.7 255.6,344.1 255.9,346.5 256.1,348.8 256.4,351.2 256.8,353.5 257.2,355.8 257.6,358.1 258.0,360.4 258.5,362.7 259.0,364.9 259.6,367.1 260.2,369.3 260.8,371.5 261.5,373.6 262.2,375.7 262.9,377.8 263.7,379.8 264.5,381.8 265.3,383.8 266.2,385.7 267.1,387.6 268.0,389.5 269.0,391.3 270.0,393.1 271.1,394.9 272.2,396.6 273.3,398.3 274.4,399.9 275.6,401.6 276.9,403.2 278.1,404.7 279.4,406.2 280.8,407.7 282.1,409.1 283.6,410.5 285.0,411.9 286.5,413.2 288.0,414.5 289.6,415.8 291.2,417.0 292.8,418.2 294.5,419.4 296.2,420.5 298.0,421.6 299.8,422.7 301.6,423.7 303.5,424.7 305.4,425.7 307.4,426.6 309.4,427.5 311.4,428.4 313.5,429.2 315.6,430.0 317.7,430.8 319.9,431.5 322.1,432.2 324.4,432.9 326.7,433.6 329.0,434.2 331.4,434.8 333.8,435.3 336.3,435.8 338.7,436.3 341.2,436.8 343.8,437.2 346.4,437.6 348.9,438.0 351.6,438.3 354.2,438.6 356.9,438.8 359.6,439.1 362.3,439.2 365.1,439.4 367.9,439.5 370.7,439.6 373.5,439.6 376.3,439.7 379.1,439.6 382.0,439.6 384.8,439.5 387.7,439.4 390.6,439.2 393.5,439.0 396.3,438.8 399.2,438.5 402.1,438.2 405.0,437.9 407.9,437.5 410.8,437.1 413.7,436.7 416.6,436.2 419.5,435.7 422.3,435.2 425.2,434.6 428.0,434.0 430.9,433.4 433.7,432.8 436.5,432.1 439.3,431.4 442.0,430.6 444.8,429.9 447.5,429.1 450.3,428.2 453.0,427.4 455.6,426.5 458.3,425.6 460.9,424.7 463.6,423.7 466.2,422.8 468.7,421.8 471.3,420.8 473.8,419.7 476.3,418.7 478.8,417.6 481.3,416.5 483.7,415.4 486.1,414.3 488.5,413.2 490.8,412.0 493.2,410.9 495.5,409.7 497.8,408.5 500.0,407.3 502.3,406.0 504.5,404.8 506.7,403.5 508.8,402.3 511.0,401.0 513.1,399.7 515.2,398.4 517.2,397.1 519.2,395.8 521.2,394.4 523.2,393.1 525.2,391.7 527.1,390.3 529.0,389.0 530.8,387.6 532.6,386.2 534.4,384.8 536.2,383.3 537.9,381.9 539.6,380.5 541.2,379.0 542.9,377.5 544.4,376.1 546.0,374.6 547.5,373.1 548.9,371.6 550.3,370.0 551.7,368.5 553.0,367.0 554.3,365.4 555.6,363.9 556.8,362.3 557.9,360.7 559.0,359.2 560.0,357.6 561.0,356.0 561.9,354.4 562.8,352.7 563.6,351.1 564.4,349.5 565.1,347.9 565.7,346.2 566.3,344.6 566.9,342.9 567.3,341.3 567.7,339.6 568.1,338.0 568.4,336.3 568.6,334.6 568.7,333.0 568.8,331.3 Z" stroke="#1a1a1a" stroke-width="2.5" stroke-linecap="butt"/>
<path d="M580.2,329.6 580.2,327.9 580.1,326.1 579.9,324.3 579.7,322.6 579.4,320.8 579.0,319.1 578.5,317.3 578.0,315.6 577.4,313.9 576.8,312.1 576.1,310.4 575.3,308.7 574.4,307.0 573.5,305.3 572.6,303.6 571.6,301.9 570.5,300.2 569.3,298.6 568.1,296.9 566.9,295.2 565.6,293.6 564.2,292.0 562.8,290.4 561.4,288.8 559.9,287.2 558.4,285.6 556.8,284.0 555.1,282.4 553.5,280.9 551.8,279.3 550.0,277.8 548.2,276.3 546.4,274.8 544.6,273.3 542.7,271.8 540.8,270.3 538.8,268.9 536.8,267.4 534.8,266.0 532.8,264.5 530.7,263.1 528.6,261.7 526.5,260.3 524.3,258.9 522.2,257.5 519.9,256.2 517.7,254.8 515.5,253.5 513.2,252.1 510.9,250.8 508.5,249.5 506.2,248.2 503.8,246.9 501.4,245.6 498.9,244.4 496.5,243.1 494.0,241.9 491.4,240.7 488.9,239.5 486.3,238.3 483.7,237.2 481.1,236.0 478.5,234.9 475.8,233.8 473.1,232.7 470.4,231.6 467.6,230.6 464.9,229.6 462.1,228.6 459.3,227.6 456.4,226.7 453.5,225.7 450.6,224.8 447.7,224.0 444.8,223.1 441.8,222.3 438.9,221.6 435.9,220.8 432.9,220.1 429.8,219.4 426.8,218.8 423.7,218.2 420.7,217.6 417.6,217.0 414.5,216.5 411.4,216.0 408.3,215.6 405.2,215.2 402.1,214.8 399.0,214.5 395.9,214.2 392.8,214.0 389.7,213.7 386.6,213.6 383.5,213.4 380.5,213.3 377.4,213.3 374.3,213.2 371.3,213.2 368.3,213.3 365.3,213.4 362.3,213.5 359.4,213.7 356.5,213.9 353.6,214.1 350.7,214.3 347.8,214.7 345.0,215.0 342.3,215.4 339.5,215.8 336.8,216.2 334.1,216.7 331.5,217.2 328.9,217.7 326.3,218.3 323.8,218.9 321.3,219.5 318.9,220.2 316.5,220.9 314.2,221.6 311.8,222.4 309.6,223.2 307.4,224.0 305.2,224.9 303.0,225.8 300.9,226.7 298.9,227.7 296.9,228.7 294.9,229.7 293.0,230.8 291.1,231.9 289.3,233.0 287.5,234.2 285.7,235.4 284.0,236.6 282.4,237.9 280.7,239.2 279.2,240.5 277.6,241.9 276.1,243.3 274.6,244.8 273.2,246.3 271.8,247.8 270.5,249.4 269.2,251.0 267.9,252.7 266.7,254.4 265.5,256.1 264.3,257.9 263.2,259.7 262.1,261.5 261.1,263.4 260.0,265.4 259.1,267.3 258.1,269.4 257.2,271.4 256.4,273.5 255.5,275.6 254.7,277.8 254.0,280.0 253.2,282.2 252.6,284.5 251.9,286.8 251.3,289.2 250.7,291.5 250.2,293.9 249.7,296.4 249.2,298.8 248.8,301.3 248.4,303.8 248.0,306.3 247.7,308.9 247.4,311.4 247.2,314.0 246.9,316.6 246.8,319.2 246.6,321.8 246.6,324.4 246.5,327.0 246.5,329.6 246.5,332.2 246.6,334.8 246.6,337.5 246.8,340.1 246.9,342.7 247.2,345.2 247.4,347.8 247.7,350.4 248.0,352.9 248.4,355.4 248.8,357.9 249.2,360.4 249.7,362.9 250.2,365.3 250.7,367.7 251.3,370.1 251.9,372.4 252.6,374.7 253.2,377.0 254.0,379.2 254.7,381.4 255.5,383.6 256.4,385.7 257.2,387.8 258.1,389.9 259.1,391.9 260.0,393.9 261.1,395.8 262.1,397.7 263.2,399.5 264.3,401.4 265.5,403.1 266.7,404.9 267.9,406.6 269.2,408.2 270.5,409.8 271.8,411.4 273.2,412.9 274.6,414.4 276.1,415.9 277.6,417.3 279.2,418.7 280.7,420.0 282.4,421.4 284.0,422.6 285.7,423.9 287.5,425.1 289.3,426.2 291.1,427.4 293.0,428.4 294.9,429.5 296.9,430.5 298.9,431.5 300.9,432.5 303.0,433.4 305.2,434.3 307.4,435.2 309.6,436.0 311.8,436.8 314.2,437.6 316.5,438.3 318.9,439.0 321.3,439.7 323.8,440.3 326.3,440.9 328.9,441.5 331.5,442.0 334.1,442.6 336.8,443.0 339.5,443.5 342.3,443.9 345.0,444.2 347.8,444.6 350.7,444.9 353.6,445.1 356.5,445.4 359.4,445.6 362.3,445.7 365.3,445.8 368.3,445.9 371.3,446.0 374.3,446.0 377.4,446.0 380.5,445.9 383.5,445.8 386.6,445.7 389.7,445.5 392.8,445.3 395.9,445.0 399.0,444.7 402.1,444.4 405.2,444.0 408.3,443.6 411.4,443.2 414.5,442.7 417.6,442.2 420.7,441.7 423.7,441.1 426.8,440.5 429.8,439.8 432.9,439.1 435.9,438.4 438.9,437.7 441.8,436.9 444.8,436.1 447.7,435.2 450.6,434.4 453.5,433.5 456.4,432.6 459.3,431.6 462.1,430.7 464.9,429.7 467.6,428.6 470.4,427.6 473.1,426.5 475.8,425.4 478.5,424.3 481.1,423.2 483.7,422.1 486.3,420.9 488.9,419.7 491.4,418.5 494.0,417.3 496.5,416.1 498.9,414.8 501.4,413.6 503.8,412.3 506.2,411.0 508.5,409.7 510.9,408.4 513.2,407.1 515.5,405.8 517.7,404.4 519.9,403.1 522.2,401.7 524.3,400.3 526.5,398.9 528.6,397.5 530.7,396.1 532.8,394.7 534.8,393.3 536.8,391.8 538.8,390.4 540.8,388.9 542.7,387.4 544.6,385.9 546.4,384.4 548.2,382.9 550.0,381.4 551.8,379.9 553.5,378.3 555.1,376.8 556.8,375.2 558.4,373.6 559.9,372.1 561.4,370.5 562.8,368.9 564.2,367.2 565.6,365.6 566.9,364.0 568.1,362.3 569.3,360.7 570.5,359.0 571.6,357.3 572.6,355.6 573.5,354.0 574.4,352.2 575.3,350.5 576.1,348.8 576.8,347.1 577.4,345.4 578.0,343.6 578.5,341.9 579.0,340.1 579.4,338.4 579.7,336.6 579.9,334.9 580.1,333.1 580.2,331.4 Z" stroke="#121212" stroke-width="2.9" stroke-linecap="butt" stroke-dasharray="9 8.5"/>
<path d="M513.2,416.0 516.4,414.2 519.6,412.4 522.7,410.5 525.8,408.6 528.8,406.7 531.8,404.8 534.7,402.8 537.6,400.9 540.5,398.9 543.3,396.9 546.0,394.9 548.7,392.8 551.4,390.8 554.0,388.7 556.5,386.6 559.0,384.5 561.4,382.4 563.7,380.2 566.0,378.0 568.2,375.9 570.3,373.6 572.4,371.4 574.3,369.2 576.2,366.9 578.0,364.6 579.7,362.3 581.2,359.9 582.7,357.6 584.1,355.2 585.3,352.8 586.5,350.4 587.5,348.0 588.4,345.6 589.2,343.1 589.8,340.7 590.3,338.2 590.7,335.8 591.0,333.3 591.1,330.8 591.1,328.4 591.0,325.9 590.7,323.4 590.3,321.0 589.8,318.5 589.2,316.1 588.4,313.6 587.5,311.2 586.5,308.8 585.3,306.4 584.1,304.0 582.7,301.6 581.2,299.3 579.7,297.0 578.0,294.6 576.2,292.4 574.3,290.1 572.4,287.8 570.3,285.6 568.2,283.4 566.0,281.2 563.7,279.0 561.4,276.9 559.0,274.7 556.5,272.6 554.0,270.5 551.4,268.4 548.7,266.4 546.0,264.4 543.3,262.3 540.5,260.3 537.6,258.4 534.7,256.4 531.8,254.5 528.8,252.5 525.8,250.6 522.7,248.7 519.6,246.9 516.4,245.0 513.2,243.2" stroke="#141414" stroke-width="2.3"/>
<path d="M513.2,243.2 511.1,242.0 508.9,240.8 506.7,239.6 504.6,238.5 502.3,237.3 500.1,236.2 497.9,235.0 495.6,233.9 493.3,232.8 491.0,231.7 488.7,230.6 486.3,229.5 484.0,228.5 481.6,227.4 479.1,226.4 476.7,225.4 474.3,224.4 471.8,223.4 469.3,222.4 466.8,221.5 464.2,220.6 461.7,219.6 459.1,218.8 456.5,217.9 453.9,217.0 451.2,216.2 448.6,215.4 445.9,214.7 443.2,213.9 440.5,213.2 437.8,212.5 435.1,211.8 432.3,211.1 429.6,210.5 426.8,209.9 424.0,209.4 421.2,208.8 418.4,208.3 415.6,207.8 412.7,207.4 409.9,206.9 407.1,206.5 404.2,206.2 401.4,205.9 398.6,205.5 395.7,205.3 392.9,205.0 390.0,204.8 387.2,204.6 384.4,204.5 381.6,204.4 378.8,204.3 376.0,204.2 373.2,204.2 370.4,204.2 367.6,204.2 364.9,204.3 362.2,204.4 359.5,204.5 356.8,204.7 354.1,204.8 351.5,205.1 348.8,205.3 346.2,205.6 343.7,205.8 341.1,206.2 338.6,206.5 336.1,206.9 333.6,207.3 331.2,207.7 328.8,208.2 326.4,208.6 324.1,209.1 321.8,209.7 319.5,210.2 317.2,210.8 315.0,211.4 312.9,212.0 310.7,212.7 308.6,213.4 306.6,214.1 304.5,214.8 302.5,215.5 300.6,216.3 298.6,217.1 296.7,217.9 294.9,218.8 293.1,219.7 291.3,220.6 289.5,221.5 287.8,222.5 286.1,223.4 284.5,224.4 282.9,225.5 281.3,226.5 279.7,227.6 278.2,228.7 276.7,229.9 275.3,231.0 273.9,232.2 272.5,233.5 271.1,234.7 269.8,236.0 268.5,237.3 267.3,238.7 266.0,240.1 264.8,241.5 263.6,242.9 262.5,244.4 261.4,245.9 260.3,247.5 259.2,249.1 258.2,250.7 257.2,252.3 256.2,254.0 255.3,255.7 254.4,257.5 253.5,259.3 252.6,261.1 251.7,263.0 250.9,264.8 250.2,266.8 249.4,268.7 248.7,270.7 248.0,272.7 247.3,274.8 246.6,276.9 246.0,279.0 245.4,281.1 244.8,283.3 244.3,285.5 243.8,287.7 243.3,289.9 242.8,292.2 242.4,294.5 242.0,296.8 241.6,299.2 241.3,301.5 241.0,303.9 240.7,306.3 240.4,308.7 240.2,311.1 240.0,313.6 239.8,316.0 239.7,318.5 239.5,321.0 239.5,323.4 239.4,325.9 239.4,328.4 239.4,330.9 239.4,333.3 239.5,335.8 239.5,338.3 239.7,340.7 239.8,343.2 240.0,345.6 240.2,348.1 240.4,350.5 240.7,352.9 241.0,355.3 241.3,357.7 241.6,360.0 242.0,362.4 242.4,364.7 242.8,367.0 243.3,369.3 243.8,371.5 244.3,373.8 244.8,375.9 245.4,378.1 246.0,380.3 246.6,382.4 247.3,384.5 248.0,386.5 248.7,388.5 249.4,390.5 250.2,392.5 250.9,394.4 251.7,396.3 252.6,398.1 253.5,399.9 254.4,401.7 255.3,403.5 256.2,405.2 257.2,406.9 258.2,408.5 259.2,410.2 260.3,411.7 261.4,413.3 262.5,414.8 263.6,416.3 264.8,417.7 266.0,419.1 267.3,420.5 268.5,421.9 269.8,423.2 271.1,424.5 272.5,425.8 273.9,427.0 275.3,428.2 276.7,429.4 278.2,430.5 279.7,431.6 281.3,432.7 282.9,433.8 284.5,434.8 286.1,435.8 287.8,436.8 289.5,437.7 291.3,438.7 293.1,439.6 294.9,440.4 296.7,441.3 298.6,442.1 300.6,442.9 302.5,443.7 304.5,444.4 306.6,445.2 308.6,445.9 310.7,446.5 312.9,447.2 315.0,447.8 317.2,448.4 319.5,449.0 321.8,449.6 324.1,450.1 326.4,450.6 328.8,451.1 331.2,451.5 333.6,451.9 336.1,452.3 338.6,452.7 341.1,453.1 343.7,453.4 346.2,453.7 348.8,453.9 351.5,454.2 354.1,454.4 356.8,454.6 359.5,454.7 362.2,454.8 364.9,454.9 367.6,455.0 370.4,455.0 373.2,455.0 376.0,455.0 378.8,454.9 381.6,454.9 384.4,454.7 387.2,454.6 390.0,454.4 392.9,454.2 395.7,454.0 398.6,453.7 401.4,453.4 404.2,453.0 407.1,452.7 409.9,452.3 412.7,451.9 415.6,451.4 418.4,450.9 421.2,450.4 424.0,449.9 426.8,449.3 429.6,448.7 432.3,448.1 435.1,447.4 437.8,446.8 440.5,446.1 443.2,445.3 445.9,444.6 448.6,443.8 451.2,443.0 453.9,442.2 456.5,441.3 459.1,440.5 461.7,439.6 464.2,438.7 466.8,437.7 469.3,436.8 471.8,435.8 474.3,434.9 476.7,433.9 479.1,432.8 481.6,431.8 484.0,430.8 486.3,429.7 488.7,428.6 491.0,427.5 493.3,426.4 495.6,425.3 497.9,424.2 500.1,423.1 502.3,421.9 504.6,420.8 506.7,419.6 508.9,418.4 511.1,417.2 513.2,416.0" stroke="#141414" stroke-width="2.3" stroke-linecap="butt" stroke-dasharray="3 0.6"/>
<path d="M509.5,431.5 513.6,429.3 517.6,427.1 521.6,424.8 525.6,422.5 529.5,420.3 533.3,418.0 537.2,415.7 540.9,413.3 544.7,411.0 548.4,408.6 552.0,406.2 555.6,403.9 559.2,401.4 562.7,399.0 566.2,396.6 569.6,394.1 572.9,391.6 576.2,389.1 579.3,386.6 582.5,384.0 585.5,381.4 588.4,378.8 591.2,376.2 593.9,373.5 596.5,370.9 598.9,368.2 601.3,365.4 603.4,362.7 605.4,359.9 607.3,357.1 609.0,354.2 610.5,351.4 611.9,348.5 613.1,345.6 614.0,342.7 614.8,339.8 615.4,336.9 615.8,333.9 616.0,331.0 616.0,328.1 615.8,325.1 615.4,322.2 614.8,319.3 614.0,316.4 613.1,313.5 611.9,310.6 610.5,307.7 609.0,304.8 607.3,302.0 605.4,299.2 603.4,296.4 601.3,293.7 598.9,290.9 596.5,288.2 593.9,285.5 591.2,282.9 588.4,280.2 585.5,277.6 582.5,275.0 579.3,272.5 576.2,270.0 572.9,267.5 569.6,265.0 566.2,262.5 562.7,260.1 559.2,257.6 555.6,255.2 552.0,252.8 548.4,250.4 544.7,248.1 540.9,245.7 537.2,243.4 533.3,241.1 529.5,238.8 525.6,236.5 521.6,234.3 517.6,232.0 513.6,229.8 509.5,227.6" stroke="#141414" stroke-width="2.3"/>
<path d="M509.5,227.6 507.1,226.4 504.8,225.1 502.4,223.9 500.0,222.7 497.6,221.5 495.2,220.3 492.7,219.2 490.2,218.0 487.7,216.9 485.2,215.8 482.7,214.6 480.1,213.5 477.5,212.5 474.9,211.4 472.2,210.4 469.6,209.3 466.9,208.3 464.2,207.4 461.5,206.4 458.7,205.5 455.9,204.5 453.1,203.7 450.3,202.8 447.5,202.0 444.6,201.1 441.7,200.4 438.8,199.6 435.9,198.9 432.9,198.2 429.9,197.5 427.0,196.9 424.0,196.3 420.9,195.7 417.9,195.2 414.9,194.7 411.8,194.2 408.7,193.8 405.7,193.4 402.6,193.0 399.5,192.7 396.4,192.4 393.3,192.1 390.2,191.9 387.1,191.7 384.0,191.5 380.9,191.4 377.8,191.3 374.7,191.3 371.7,191.2 368.6,191.2 365.6,191.3 362.5,191.4 359.5,191.5 356.5,191.6 353.6,191.8 350.6,192.0 347.7,192.2 344.8,192.4 341.9,192.7 339.0,193.0 336.2,193.4 333.4,193.7 330.7,194.1 327.9,194.5 325.2,195.0 322.6,195.4 320.0,195.9 317.4,196.4 314.8,197.0 312.3,197.5 309.9,198.1 307.4,198.7 305.1,199.3 302.7,199.9 300.4,200.6 298.2,201.2 295.9,201.9 293.8,202.6 291.6,203.4 289.6,204.1 287.5,204.9 285.5,205.7 283.5,206.5 281.6,207.3 279.7,208.2 277.9,209.0 276.1,209.9 274.4,210.8 272.6,211.7 271.0,212.7 269.3,213.7 267.7,214.6 266.2,215.7 264.6,216.7 263.2,217.8 261.7,218.9 260.3,220.0 258.9,221.1 257.5,222.3 256.2,223.5 254.9,224.8 253.7,226.0 252.5,227.4 251.3,228.7 250.1,230.1 249.0,231.5 247.8,232.9 246.8,234.4 245.7,235.9 244.7,237.5 243.7,239.1 242.7,240.7 241.7,242.4 240.8,244.1 239.9,245.9 239.0,247.7 238.2,249.5 237.3,251.4 236.5,253.4 235.7,255.3 235.0,257.4 234.2,259.4 233.5,261.5 232.8,263.7 232.2,265.9 231.5,268.1 230.9,270.4 230.3,272.7 229.7,275.1 229.2,277.4 228.7,279.9 228.2,282.3 227.7,284.8 227.3,287.4 226.8,289.9 226.5,292.5 226.1,295.1 225.8,297.8 225.4,300.5 225.2,303.2 224.9,305.9 224.7,308.6 224.5,311.4 224.3,314.1 224.2,316.9 224.1,319.7 224.0,322.5 223.9,325.3 223.9,328.1 223.9,330.9 223.9,333.7 224.0,336.6 224.1,339.4 224.2,342.1 224.3,344.9 224.5,347.7 224.7,350.4 224.9,353.2 225.2,355.9 225.4,358.6 225.8,361.3 226.1,363.9 226.5,366.5 226.8,369.1 227.3,371.7 227.7,374.2 228.2,376.7 228.7,379.2 229.2,381.6 229.7,384.0 230.3,386.4 230.9,388.7 231.5,391.0 232.2,393.2 232.8,395.4 233.5,397.5 234.2,399.6 235.0,401.7 235.7,403.7 236.5,405.7 237.3,407.6 238.2,409.5 239.0,411.4 239.9,413.2 240.8,414.9 241.7,416.7 242.7,418.3 243.7,420.0 244.7,421.6 245.7,423.1 246.8,424.7 247.8,426.2 249.0,427.6 250.1,429.0 251.3,430.4 252.5,431.7 253.7,433.0 254.9,434.3 256.2,435.5 257.5,436.7 258.9,437.9 260.3,439.1 261.7,440.2 263.2,441.3 264.6,442.4 266.2,443.4 267.7,444.4 269.3,445.4 271.0,446.4 272.6,447.3 274.4,448.3 276.1,449.2 277.9,450.1 279.7,450.9 281.6,451.8 283.5,452.6 285.5,453.4 287.5,454.2 289.6,454.9 291.6,455.7 293.8,456.4 295.9,457.1 298.2,457.8 300.4,458.5 302.7,459.1 305.1,459.8 307.4,460.4 309.9,461.0 312.3,461.6 314.8,462.1 317.4,462.6 320.0,463.1 322.6,463.6 325.2,464.1 327.9,464.5 330.7,464.9 333.4,465.3 336.2,465.7 339.0,466.0 341.9,466.3 344.8,466.6 347.7,466.9 350.6,467.1 353.6,467.3 356.5,467.5 359.5,467.6 362.5,467.7 365.6,467.8 368.6,467.8 371.7,467.8 374.7,467.8 377.8,467.7 380.9,467.7 384.0,467.5 387.1,467.4 390.2,467.2 393.3,466.9 396.4,466.7 399.5,466.4 402.6,466.0 405.7,465.7 408.7,465.3 411.8,464.8 414.9,464.4 417.9,463.9 420.9,463.3 424.0,462.8 427.0,462.2 429.9,461.5 432.9,460.9 435.9,460.2 438.8,459.5 441.7,458.7 444.6,457.9 447.5,457.1 450.3,456.3 453.1,455.4 455.9,454.5 458.7,453.6 461.5,452.7 464.2,451.7 466.9,450.7 469.6,449.7 472.2,448.7 474.9,447.7 477.5,446.6 480.1,445.5 482.7,444.4 485.2,443.3 487.7,442.2 490.2,441.0 492.7,439.9 495.2,438.7 497.6,437.5 500.0,436.3 502.4,435.1 504.8,433.9 507.1,432.7 509.5,431.5" stroke="#141414" stroke-width="2.3" stroke-linecap="butt" stroke-dasharray="3 0.6"/>
<path d="M514.8,435.0 519.1,432.7 523.3,430.4 527.4,428.0 531.5,425.6 535.6,423.2 539.6,420.8 543.6,418.4 547.6,416.0 551.5,413.5 555.4,411.1 559.3,408.6 563.1,406.1 566.8,403.6 570.6,401.1 574.2,398.6 577.8,396.0 581.4,393.5 584.9,390.9 588.3,388.3 591.6,385.6 594.9,383.0 598.0,380.3 601.0,377.6 603.9,374.8 606.7,372.1 609.4,369.3 611.9,366.5 614.2,363.6 616.4,360.7 618.4,357.8 620.3,354.9 621.9,352.0 623.4,349.0 624.7,346.1 625.7,343.1 626.6,340.1 627.2,337.1 627.7,334.0 627.9,331.0 627.9,328.0 627.7,325.0 627.2,321.9 626.6,318.9 625.7,315.9 624.7,312.9 623.4,310.0 621.9,307.0 620.3,304.1 618.4,301.1 616.4,298.3 614.2,295.4 611.9,292.5 609.4,289.7 606.7,286.9 603.9,284.2 601.0,281.4 598.0,278.7 594.9,276.0 591.6,273.4 588.3,270.7 584.9,268.1 581.4,265.5 577.8,263.0 574.2,260.4 570.6,257.9 566.8,255.4 563.1,252.9 559.3,250.4 555.4,247.9 551.5,245.5 547.6,243.0 543.6,240.6 539.6,238.2 535.6,235.8 531.5,233.4 527.4,231.0 523.3,228.6 519.1,226.3 514.8,224.0" stroke="#141414" stroke-width="2.3"/>
<path d="M514.8,224.0 512.4,222.7 510.0,221.4 507.5,220.1 505.0,218.8 502.5,217.5 500.0,216.3 497.5,215.0 494.9,213.8 492.3,212.6 489.7,211.4 487.1,210.2 484.4,209.0 481.7,207.9 479.0,206.7 476.3,205.6 473.5,204.5 470.7,203.5 467.9,202.4 465.1,201.4 462.2,200.4 459.3,199.4 456.4,198.4 453.4,197.5 450.5,196.6 447.5,195.7 444.5,194.9 441.4,194.1 438.3,193.3 435.3,192.6 432.1,191.9 429.0,191.2 425.8,190.5 422.7,189.9 419.5,189.4 416.3,188.8 413.1,188.3 409.8,187.9 406.6,187.4 403.3,187.1 400.1,186.7 396.8,186.4 393.5,186.1 390.2,185.9 387.0,185.7 383.7,185.5 380.4,185.4 377.1,185.3 373.9,185.2 370.6,185.2 367.4,185.2 364.1,185.3 360.9,185.4 357.7,185.5 354.6,185.6 351.4,185.8 348.3,186.0 345.2,186.3 342.1,186.6 339.0,186.9 336.0,187.2 333.0,187.6 330.0,188.0 327.1,188.4 324.2,188.8 321.4,189.3 318.6,189.8 315.8,190.3 313.1,190.8 310.4,191.4 307.8,192.0 305.2,192.6 302.6,193.2 300.1,193.8 297.7,194.5 295.3,195.2 292.9,195.8 290.6,196.6 288.3,197.3 286.1,198.0 283.9,198.8 281.8,199.6 279.7,200.4 277.7,201.2 275.7,202.0 273.8,202.9 271.9,203.7 270.0,204.6 268.2,205.5 266.5,206.4 264.7,207.4 263.1,208.4 261.4,209.3 259.8,210.4 258.3,211.4 256.8,212.5 255.3,213.6 253.8,214.7 252.4,215.8 251.1,217.0 249.7,218.2 248.4,219.5 247.2,220.7 245.9,222.0 244.7,223.4 243.5,224.8 242.4,226.2 241.3,227.6 240.2,229.1 239.1,230.7 238.1,232.3 237.1,233.9 236.1,235.6 235.1,237.3 234.2,239.1 233.3,240.9 232.4,242.7 231.5,244.6 230.7,246.6 229.9,248.6 229.1,250.7 228.3,252.8 227.6,254.9 226.8,257.1 226.1,259.4 225.5,261.7 224.8,264.0 224.2,266.4 223.6,268.8 223.0,271.3 222.4,273.9 221.9,276.4 221.4,279.0 220.9,281.7 220.5,284.4 220.0,287.1 219.6,289.9 219.3,292.7 218.9,295.5 218.6,298.3 218.3,301.2 218.1,304.1 217.8,307.1 217.6,310.0 217.4,313.0 217.3,316.0 217.2,319.0 217.1,322.0 217.0,325.0 217.0,328.0 217.0,331.0 217.0,334.0 217.1,337.0 217.2,340.0 217.3,343.0 217.4,346.0 217.6,349.0 217.8,351.9 218.1,354.9 218.3,357.8 218.6,360.6 218.9,363.5 219.3,366.3 219.6,369.1 220.0,371.9 220.5,374.6 220.9,377.3 221.4,380.0 221.9,382.6 222.4,385.1 223.0,387.7 223.6,390.2 224.2,392.6 224.8,395.0 225.5,397.3 226.1,399.6 226.8,401.9 227.6,404.1 228.3,406.2 229.1,408.3 229.9,410.4 230.7,412.4 231.5,414.4 232.4,416.3 233.3,418.1 234.2,419.9 235.1,421.7 236.1,423.4 237.1,425.1 238.1,426.7 239.1,428.3 240.2,429.8 241.3,431.3 242.4,432.8 243.5,434.2 244.7,435.6 245.9,437.0 247.2,438.3 248.4,439.5 249.7,440.8 251.1,442.0 252.4,443.2 253.8,444.3 255.3,445.4 256.8,446.5 258.3,447.6 259.8,448.6 261.4,449.6 263.1,450.6 264.7,451.6 266.5,452.6 268.2,453.5 270.0,454.4 271.9,455.3 273.8,456.1 275.7,457.0 277.7,457.8 279.7,458.6 281.8,459.4 283.9,460.2 286.1,461.0 288.3,461.7 290.6,462.4 292.9,463.2 295.3,463.8 297.7,464.5 300.1,465.2 302.6,465.8 305.2,466.4 307.8,467.0 310.4,467.6 313.1,468.2 315.8,468.7 318.6,469.2 321.4,469.7 324.2,470.2 327.1,470.6 330.0,471.0 333.0,471.4 336.0,471.8 339.0,472.1 342.1,472.4 345.2,472.7 348.3,472.9 351.4,473.2 354.6,473.4 357.7,473.5 360.9,473.6 364.1,473.7 367.4,473.8 370.6,473.8 373.9,473.8 377.1,473.7 380.4,473.6 383.7,473.5 387.0,473.3 390.2,473.1 393.5,472.9 396.8,472.6 400.1,472.3 403.3,471.9 406.6,471.6 409.8,471.1 413.1,470.7 416.3,470.2 419.5,469.6 422.7,469.1 425.8,468.4 429.0,467.8 432.1,467.1 435.3,466.4 438.3,465.7 441.4,464.9 444.5,464.1 447.5,463.3 450.5,462.4 453.4,461.5 456.4,460.6 459.3,459.6 462.2,458.6 465.1,457.6 467.9,456.6 470.7,455.5 473.5,454.5 476.3,453.4 479.0,452.3 481.7,451.1 484.4,450.0 487.1,448.8 489.7,447.6 492.3,446.4 494.9,445.2 497.5,444.0 500.0,442.7 502.5,441.5 505.0,440.2 507.5,438.9 510.0,437.6 512.4,436.3 514.8,435.0" stroke="#141414" stroke-width="2.3" stroke-linecap="butt" stroke-dasharray="3 0.6"/>
<path d="M520.5,439.4 524.9,436.9 529.3,434.4 533.7,431.9 538.0,429.4 542.2,426.8 546.5,424.3 550.7,421.7 554.9,419.2 559.0,416.6 563.1,414.0 567.2,411.5 571.3,408.9 575.3,406.3 579.3,403.6 583.2,401.0 587.1,398.4 590.9,395.7 594.7,393.0 598.4,390.3 602.0,387.6 605.5,384.8 608.9,382.0 612.2,379.2 615.3,376.4 618.4,373.5 621.3,370.6 624.0,367.7 626.6,364.8 629.0,361.8 631.2,358.8 633.2,355.8 635.0,352.8 636.6,349.7 638.0,346.6 639.2,343.5 640.1,340.4 640.8,337.3 641.3,334.2 641.5,331.0 641.5,327.9 641.3,324.8 640.8,321.6 640.1,318.5 639.2,315.4 638.0,312.3 636.6,309.2 635.0,306.1 633.2,303.1 631.2,300.1 629.0,297.1 626.6,294.1 624.0,291.2 621.3,288.3 618.4,285.4 615.3,282.5 612.2,279.7 608.9,276.9 605.5,274.1 602.0,271.3 598.4,268.6 594.7,265.9 590.9,263.2 587.1,260.5 583.2,257.9 579.3,255.3 575.3,252.6 571.3,250.0 567.2,247.4 563.1,244.9 559.0,242.3 554.9,239.7 550.7,237.2 546.5,234.6 542.2,232.1 538.0,229.5 533.7,227.0 529.3,224.5 524.9,222.0 520.5,219.5" stroke="#141414" stroke-width="2.3"/>
<path d="M520.5,219.5 518.0,218.2 515.4,216.8 512.9,215.4 510.3,214.0 507.7,212.7 505.1,211.3 502.4,210.0 499.7,208.7 497.0,207.4 494.3,206.1 491.6,204.8 488.8,203.5 486.0,202.3 483.2,201.1 480.3,199.8 477.4,198.7 474.5,197.5 471.6,196.4 468.6,195.2 465.6,194.2 462.6,193.1 459.5,192.1 456.4,191.1 453.3,190.1 450.1,189.1 447.0,188.2 443.8,187.4 440.5,186.5 437.3,185.7 434.0,184.9 430.6,184.2 427.3,183.5 423.9,182.9 420.6,182.2 417.2,181.7 413.7,181.1 410.3,180.6 406.8,180.2 403.4,179.8 399.9,179.4 396.4,179.1 392.9,178.8 389.4,178.5 385.9,178.3 382.4,178.1 378.9,178.0 375.4,177.9 371.9,177.9 368.5,177.9 365.0,177.9 361.5,178.0 358.1,178.1 354.7,178.2 351.3,178.4 347.9,178.6 344.5,178.8 341.2,179.1 337.9,179.4 334.6,179.7 331.4,180.1 328.2,180.5 325.1,180.9 321.9,181.4 318.9,181.9 315.8,182.4 312.8,182.9 309.9,183.4 307.0,184.0 304.1,184.6 301.3,185.2 298.6,185.8 295.9,186.5 293.2,187.2 290.6,187.8 288.1,188.5 285.6,189.2 283.2,190.0 280.8,190.7 278.5,191.5 276.2,192.3 274.0,193.1 271.8,193.9 269.7,194.7 267.6,195.5 265.6,196.4 263.6,197.3 261.7,198.1 259.8,199.1 258.0,200.0 256.3,200.9 254.5,201.9 252.9,202.9 251.2,203.9 249.6,204.9 248.1,206.0 246.6,207.1 245.1,208.2 243.7,209.3 242.3,210.5 241.0,211.7 239.6,213.0 238.3,214.2 237.1,215.5 235.9,216.9 234.7,218.3 233.5,219.7 232.4,221.2 231.3,222.7 230.2,224.3 229.2,225.9 228.2,227.6 227.2,229.3 226.2,231.1 225.3,232.9 224.3,234.8 223.4,236.7 222.6,238.7 221.7,240.7 220.9,242.8 220.1,244.9 219.3,247.1 218.6,249.4 217.8,251.7 217.1,254.1 216.4,256.5 215.8,259.0 215.1,261.5 214.5,264.1 213.9,266.8 213.3,269.5 212.8,272.2 212.3,275.0 211.8,277.8 211.3,280.7 210.9,283.7 210.5,286.6 210.1,289.6 209.7,292.7 209.4,295.8 209.1,298.9 208.8,302.0 208.6,305.2 208.4,308.4 208.2,311.6 208.0,314.8 207.9,318.0 207.8,321.3 207.8,324.6 207.7,327.8 207.7,331.1 207.8,334.4 207.8,337.6 207.9,340.9 208.0,344.1 208.2,347.3 208.4,350.5 208.6,353.7 208.8,356.9 209.1,360.0 209.4,363.1 209.7,366.2 210.1,369.3 210.5,372.3 210.9,375.3 211.3,378.2 211.8,381.1 212.3,383.9 212.8,386.7 213.3,389.4 213.9,392.1 214.5,394.8 215.1,397.4 215.8,399.9 216.4,402.4 217.1,404.8 217.8,407.2 218.6,409.5 219.3,411.8 220.1,414.0 220.9,416.1 221.7,418.2 222.6,420.2 223.4,422.2 224.3,424.2 225.3,426.0 226.2,427.8 227.2,429.6 228.2,431.3 229.2,433.0 230.2,434.6 231.3,436.2 232.4,437.7 233.5,439.2 234.7,440.6 235.9,442.0 237.1,443.4 238.3,444.7 239.6,445.9 241.0,447.2 242.3,448.4 243.7,449.6 245.1,450.7 246.6,451.8 248.1,452.9 249.6,454.0 251.2,455.0 252.9,456.0 254.5,457.0 256.3,458.0 258.0,458.9 259.8,459.9 261.7,460.8 263.6,461.7 265.6,462.5 267.6,463.4 269.7,464.2 271.8,465.0 274.0,465.8 276.2,466.6 278.5,467.4 280.8,468.2 283.2,468.9 285.6,469.7 288.1,470.4 290.6,471.1 293.2,471.8 295.9,472.4 298.6,473.1 301.3,473.7 304.1,474.3 307.0,474.9 309.9,475.5 312.8,476.0 315.8,476.5 318.9,477.0 321.9,477.5 325.1,478.0 328.2,478.4 331.4,478.8 334.6,479.2 337.9,479.5 341.2,479.8 344.5,480.1 347.9,480.3 351.3,480.5 354.7,480.7 358.1,480.8 361.5,481.0 365.0,481.0 368.5,481.0 371.9,481.0 375.4,481.0 378.9,480.9 382.4,480.8 385.9,480.6 389.4,480.4 392.9,480.1 396.4,479.8 399.9,479.5 403.4,479.1 406.8,478.7 410.3,478.3 413.7,477.8 417.2,477.2 420.6,476.7 423.9,476.0 427.3,475.4 430.6,474.7 434.0,474.0 437.3,473.2 440.5,472.4 443.8,471.5 447.0,470.7 450.1,469.8 453.3,468.8 456.4,467.8 459.5,466.8 462.6,465.8 465.6,464.7 468.6,463.7 471.6,462.5 474.5,461.4 477.4,460.2 480.3,459.1 483.2,457.9 486.0,456.6 488.8,455.4 491.6,454.1 494.3,452.8 497.0,451.5 499.7,450.2 502.4,448.9 505.1,447.6 507.7,446.2 510.3,444.9 512.9,443.5 515.4,442.1 518.0,440.7 520.5,439.4" stroke="#141414" stroke-width="2.3" stroke-linecap="butt" stroke-dasharray="3 0.6"/>
<path d="M654.8,329.4 654.7,327.2 654.5,324.9 654.2,322.7 653.8,320.5 653.2,318.3 652.6,316.1 651.8,313.8 650.9,311.6 649.9,309.4 648.7,307.3 647.5,305.1 646.2,302.9 644.7,300.8 643.2,298.6 641.5,296.5 639.8,294.4 637.9,292.3 636.0,290.2 634.0,288.1 631.9,286.0 629.8,284.0 627.5,281.9 625.2,279.9 622.9,277.9 620.4,275.9 617.9,273.9 615.4,271.9 612.8,270.0 610.2,268.0 607.5,266.1 604.8,264.1 602.0,262.2 599.2,260.3 596.4,258.4 593.6,256.5 590.7,254.6 587.8,252.8 584.9,250.9 582.0,249.0 579.1,247.2 576.1,245.3 573.1,243.4 570.2,241.6 567.2,239.7 564.2,237.9 561.2,236.0 558.1,234.2 555.1,232.4 552.1,230.5 549.0,228.7 545.9,226.8 542.8,225.0 539.7,223.2 536.6,221.4 533.5,219.5 530.4,217.7 527.2,215.9 524.0,214.1 520.8,212.3 517.5,210.6 514.2,208.8 510.9,207.0 507.6,205.3 504.2,203.6 500.8,201.9 497.3,200.2 493.8,198.6 490.3,197.0 486.7,195.4 483.1,193.8 479.4,192.3 475.7,190.8 471.9,189.3 468.1,187.9 464.2,186.5 460.3,185.2 456.3,183.9 452.3,182.7 448.2,181.5 444.1,180.4 439.9,179.4 435.7,178.4 431.5,177.4 427.2,176.5 422.8,175.7 418.5,175.0 414.1,174.3 409.6,173.6 405.2,173.1 400.7,172.6 396.2,172.1 391.7,171.8 387.2,171.5 382.7,171.2 378.1,171.1 373.6,171.0 369.1,170.9 364.6,171.0 360.2,171.0 355.7,171.2 351.3,171.4 346.9,171.6 342.5,171.9 338.2,172.3 334.0,172.7 329.8,173.2 325.6,173.7 321.5,174.2 317.5,174.8 313.5,175.4 309.6,176.1 305.8,176.8 302.0,177.5 298.4,178.3 294.8,179.0 291.3,179.9 287.9,180.7 284.5,181.6 281.3,182.4 278.1,183.3 275.1,184.3 272.1,185.2 269.2,186.2 266.4,187.2 263.6,188.2 261.0,189.2 258.4,190.2 256.0,191.3 253.6,192.4 251.3,193.5 249.0,194.7 246.9,195.8 244.8,197.0 242.8,198.3 240.8,199.5 239.0,200.9 237.1,202.2 235.4,203.6 233.7,205.1 232.0,206.6 230.5,208.1 228.9,209.7 227.4,211.4 226.0,213.1 224.6,214.9 223.3,216.8 221.9,218.8 220.7,220.8 219.4,222.9 218.3,225.1 217.1,227.4 216.0,229.8 214.9,232.2 213.8,234.8 212.8,237.4 211.8,240.1 210.9,243.0 210.0,245.9 209.1,248.9 208.2,252.0 207.4,255.2 206.6,258.5 205.9,261.9 205.2,265.3 204.5,268.9 203.8,272.5 203.3,276.2 202.7,280.0 202.2,283.9 201.7,287.8 201.3,291.8 200.9,295.8 200.5,299.9 200.2,304.0 200.0,308.2 199.8,312.4 199.6,316.6 199.5,320.9 199.4,325.1 199.4,329.4 199.4,333.7 199.5,337.9 199.6,342.2 199.8,346.4 200.0,350.6 200.2,354.8 200.5,358.9 200.9,363.0 201.3,367.0 201.7,371.0 202.2,374.9 202.7,378.8 203.3,382.6 203.8,386.3 204.5,389.9 205.2,393.5 205.9,396.9 206.6,400.3 207.4,403.6 208.2,406.8 209.1,409.9 210.0,412.9 210.9,415.9 211.8,418.7 212.8,421.4 213.8,424.1 214.9,426.6 216.0,429.1 217.1,431.4 218.3,433.7 219.4,435.9 220.7,438.0 221.9,440.1 223.3,442.0 224.6,443.9 226.0,445.7 227.4,447.4 228.9,449.1 230.5,450.7 232.0,452.3 233.7,453.8 235.4,455.2 237.1,456.6 239.0,458.0 240.8,459.3 242.8,460.6 244.8,461.8 246.9,463.0 249.0,464.2 251.3,465.3 253.6,466.4 256.0,467.5 258.4,468.6 261.0,469.6 263.6,470.7 266.4,471.7 269.2,472.6 272.1,473.6 275.1,474.6 278.1,475.5 281.3,476.4 284.5,477.3 287.9,478.1 291.3,479.0 294.8,479.8 298.4,480.6 302.0,481.3 305.8,482.0 309.6,482.7 313.5,483.4 317.5,484.0 321.5,484.6 325.6,485.1 329.8,485.6 334.0,486.1 338.2,486.5 342.5,486.9 346.9,487.2 351.3,487.4 355.7,487.6 360.2,487.8 364.6,487.9 369.1,487.9 373.6,487.8 378.1,487.7 382.7,487.6 387.2,487.3 391.7,487.0 396.2,486.7 400.7,486.3 405.2,485.8 409.6,485.2 414.1,484.6 418.5,483.9 422.8,483.1 427.2,482.3 431.5,481.4 435.7,480.5 439.9,479.5 444.1,478.4 448.2,477.3 452.3,476.1 456.3,474.9 460.3,473.6 464.2,472.3 468.1,470.9 471.9,469.5 475.7,468.0 479.4,466.5 483.1,465.0 486.7,463.5 490.3,461.9 493.8,460.2 497.3,458.6 500.8,456.9 504.2,455.2 507.6,453.5 510.9,451.8 514.2,450.0 517.5,448.3 520.8,446.5 524.0,444.7 527.2,442.9 530.4,441.1 533.5,439.3 536.6,437.5 539.7,435.6 542.8,433.8 545.9,432.0 549.0,430.1 552.1,428.3 555.1,426.5 558.1,424.6 561.2,422.8 564.2,420.9 567.2,419.1 570.2,417.2 573.1,415.4 576.1,413.5 579.1,411.7 582.0,409.8 584.9,407.9 587.8,406.1 590.7,404.2 593.6,402.3 596.4,400.4 599.2,398.5 602.0,396.6 604.8,394.7 607.5,392.7 610.2,390.8 612.8,388.9 615.4,386.9 617.9,384.9 620.4,382.9 622.9,380.9 625.2,378.9 627.5,376.9 629.8,374.9 631.9,372.8 634.0,370.7 636.0,368.7 637.9,366.6 639.8,364.5 641.5,362.3 643.2,360.2 644.7,358.1 646.2,355.9 647.5,353.7 648.7,351.6 649.9,349.4 650.9,347.2 651.8,345.0 652.6,342.8 653.2,340.5 653.8,338.3 654.2,336.1 654.5,333.9 654.7,331.6 Z" stroke="#161616" stroke-width="3.0" stroke-linecap="round" stroke-dasharray="0 6.3"/>
<path d="M553.9,438.2 557.7,435.8 561.4,433.5 565.1,431.1 568.8,428.8 572.5,426.4 576.2,424.0 580.0,421.7 583.8,419.3 587.5,416.9 591.3,414.5 595.2,412.1 599.0,409.7 602.8,407.2 606.7,404.8 610.5,402.3 614.3,399.7 618.1,397.2 621.9,394.6 625.6,391.9 629.2,389.3 632.8,386.5 636.3,383.8 639.7,381.0 643.0,378.2 646.2,375.3 649.2,372.4 652.1,369.4 654.8,366.4 657.4,363.3 659.7,360.3 661.9,357.1 663.8,354.0 665.6,350.8 667.1,347.6 668.3,344.4 669.3,341.2 670.1,337.9 670.6,334.6 670.9,331.4 670.9,328.1 670.6,324.8 670.1,321.6 669.3,318.3 668.3,315.1 667.1,311.9 665.6,308.7 663.8,305.5 661.9,302.3 659.7,299.2 657.4,296.1 654.8,293.1 652.1,290.1 649.2,287.1 646.2,284.2 643.0,281.3 639.7,278.5 636.3,275.7 632.8,272.9 629.2,270.2 625.6,267.5 621.9,264.9 618.1,262.3 614.3,259.7 610.5,257.2 606.7,254.7 602.8,252.2 599.0,249.8 595.2,247.4 591.3,245.0 587.5,242.6 583.8,240.2 580.0,237.8 576.2,235.4 572.5,233.1 568.8,230.7 565.1,228.4 561.4,226.0 557.7,223.7 553.9,221.3" stroke="#181818" stroke-width="2.0"/>
<path d="M553.9,221.3 551.5,219.8 549.0,218.2 546.6,216.7 544.1,215.1 541.6,213.6 539.0,212.0 536.5,210.5 533.9,208.9 531.3,207.4 528.7,205.8 526.0,204.3 523.3,202.8 520.5,201.2 517.7,199.7 514.9,198.2 512.0,196.7 509.1,195.3 506.1,193.8 503.0,192.4 499.9,190.9 496.8,189.5 493.6,188.1 490.3,186.8 486.9,185.4 483.5,184.1 480.1,182.8 476.5,181.6 472.9,180.3 469.3,179.1 465.6,178.0 461.8,176.9 457.9,175.8 454.0,174.8 450.1,173.8 446.1,172.8 442.0,171.9 437.9,171.0 433.7,170.2 429.5,169.5 425.3,168.8 421.0,168.1 416.7,167.5 412.3,166.9 408.0,166.4 403.6,165.9 399.2,165.5 394.7,165.2 390.3,164.9 385.9,164.6 381.4,164.4 377.0,164.3 372.6,164.2 368.2,164.1 363.8,164.1 359.5,164.2 355.2,164.2 350.9,164.4 346.7,164.6 342.5,164.8 338.3,165.0 334.3,165.3 330.2,165.7 326.3,166.0 322.4,166.4 318.5,166.9 314.8,167.3 311.1,167.8 307.5,168.3 303.9,168.9 300.5,169.4 297.1,170.0 293.9,170.6 290.7,171.2 287.6,171.9 284.5,172.5 281.6,173.2 278.8,173.8 276.0,174.5 273.3,175.2 270.8,175.9 268.3,176.7 265.8,177.4 263.5,178.1 261.2,178.9 259.1,179.6 257.0,180.4 254.9,181.2 253.0,182.0 251.1,182.8 249.3,183.6 247.5,184.4 245.8,185.3 244.1,186.1 242.5,187.0 241.0,187.9 239.5,188.9 238.0,189.8 236.6,190.8 235.2,191.8 233.8,192.9 232.5,194.0 231.2,195.1 229.9,196.3 228.7,197.6 227.4,198.8 226.2,200.2 225.0,201.6 223.8,203.0 222.6,204.5 221.5,206.1 220.3,207.7 219.2,209.5 218.0,211.2 216.9,213.1 215.8,215.0 214.7,217.1 213.5,219.2 212.4,221.4 211.3,223.6 210.3,226.0 209.2,228.4 208.1,231.0 207.1,233.6 206.0,236.3 205.0,239.1 204.0,242.0 203.0,244.9 202.0,248.0 201.1,251.1 200.2,254.4 199.3,257.7 198.4,261.1 197.6,264.5 196.8,268.1 196.1,271.7 195.3,275.4 194.7,279.1 194.0,282.9 193.5,286.8 192.9,290.7 192.4,294.7 192.0,298.7 191.6,302.8 191.3,306.9 191.0,311.0 190.8,315.1 190.6,319.3 190.5,323.5 190.4,327.6 190.4,331.8 190.5,336.0 190.6,340.2 190.8,344.4 191.0,348.5 191.3,352.6 191.6,356.7 192.0,360.8 192.4,364.8 192.9,368.7 193.5,372.7 194.0,376.5 194.7,380.3 195.3,384.1 196.1,387.8 196.8,391.4 197.6,394.9 198.4,398.4 199.3,401.8 200.2,405.1 201.1,408.3 202.0,411.5 203.0,414.5 204.0,417.5 205.0,420.4 206.0,423.2 207.1,425.9 208.1,428.5 209.2,431.1 210.3,433.5 211.3,435.9 212.4,438.1 213.5,440.3 214.7,442.4 215.8,444.4 216.9,446.4 218.0,448.2 219.2,450.0 220.3,451.7 221.5,453.4 222.6,455.0 223.8,456.5 225.0,457.9 226.2,459.3 227.4,460.6 228.7,461.9 229.9,463.2 231.2,464.3 232.5,465.5 233.8,466.6 235.2,467.6 236.6,468.7 238.0,469.7 239.5,470.6 241.0,471.6 242.5,472.5 244.1,473.4 245.8,474.2 247.5,475.1 249.3,475.9 251.1,476.7 253.0,477.5 254.9,478.3 257.0,479.1 259.1,479.9 261.2,480.6 263.5,481.4 265.8,482.1 268.3,482.8 270.8,483.5 273.3,484.3 276.0,485.0 278.8,485.6 281.6,486.3 284.5,487.0 287.6,487.6 290.7,488.3 293.9,488.9 297.1,489.5 300.5,490.1 303.9,490.6 307.5,491.2 311.1,491.7 314.8,492.2 318.5,492.6 322.4,493.1 326.3,493.5 330.2,493.8 334.3,494.2 338.3,494.5 342.5,494.7 346.7,494.9 350.9,495.1 355.2,495.2 359.5,495.3 363.8,495.4 368.2,495.4 372.6,495.3 377.0,495.2 381.4,495.1 385.9,494.9 390.3,494.6 394.7,494.3 399.2,493.9 403.6,493.5 408.0,493.1 412.3,492.6 416.7,492.0 421.0,491.4 425.3,490.7 429.5,490.0 433.7,489.2 437.9,488.4 442.0,487.6 446.1,486.7 450.1,485.7 454.0,484.7 457.9,483.7 461.8,482.6 465.6,481.5 469.3,480.3 472.9,479.1 476.5,477.9 480.1,476.7 483.5,475.4 486.9,474.1 490.3,472.7 493.6,471.4 496.8,470.0 499.9,468.6 503.0,467.1 506.1,465.7 509.1,464.2 512.0,462.7 514.9,461.3 517.7,459.7 520.5,458.2 523.3,456.7 526.0,455.2 528.7,453.7 531.3,452.1 533.9,450.6 536.5,449.0 539.0,447.5 541.6,445.9 544.1,444.4 546.6,442.8 549.0,441.3 551.5,439.7 553.9,438.2" stroke="#181818" stroke-width="2.0" stroke-linecap="butt" stroke-dasharray="3 0.7"/>
<circle cx="400.0" cy="329.6" r="2" fill="#111"/>
<path d="M597.7,301.0 597.6,300.5 597.4,300.0 597.2,299.6 597.0,299.1 596.9,298.6 596.7,298.1 596.5,297.6 596.3,297.2 596.1,296.7 595.9,296.2 595.7,295.7 595.5,295.3 595.3,294.8 595.1,294.3 594.9,293.9 594.7,293.4 594.5,292.9 594.3,292.5 594.1,292.0 593.8,291.5 593.6,291.1 593.4,290.6 593.1,290.1 592.9,289.7 592.7,289.2 592.4,288.8 592.2,288.3 591.9,287.8 591.7,287.4 591.4,286.9 591.2,286.5 590.9,286.0 590.7,285.6 590.4,285.1 590.1,284.7 589.9,284.2 589.6,283.8 589.3,283.3 589.1,282.9" stroke="#111" stroke-width="3.2" stroke-linecap="round" stroke-dasharray="0.6 2.7"/>
<path d="M605.4,342.6 605.5,341.7 605.6,340.7 605.8,339.7 605.9,338.7 606.0,337.7 606.1,336.7 606.2,335.7 606.2,334.7 606.3,333.7 606.3,332.7 606.4,331.7 606.4,330.8 606.4,329.8 606.4,328.8 606.4,327.8 606.4,326.8 606.3,325.8 606.3,324.8 606.3,323.8 606.2,322.8 606.1,321.8 606.0,320.8 605.9,319.8 605.8,318.8 605.7,317.8 605.6,316.8 605.4,315.8 605.3,314.8 605.1,313.9 605.0,312.9 604.8,311.9 604.6,310.9 604.4,309.9 604.2,309.0 603.9,308.0 603.7,307.0 603.4,306.0 603.2,305.1 602.9,304.1" stroke="#111" stroke-width="4.5" stroke-linecap="round" stroke-dasharray="0.6 2.7"/>
<path d="M585.5,379.5 586.1,378.7 586.7,377.8 587.3,376.9 587.8,376.1 588.4,375.2 588.9,374.3 589.5,373.4 590.0,372.5 590.5,371.6 591.0,370.7 591.5,369.8 592.0,368.9 592.5,368.0 593.0,367.1 593.4,366.2 593.9,365.2 594.3,364.3 594.7,363.4 595.1,362.4 595.5,361.5 595.9,360.6 596.3,359.6 596.6,358.7 597.0,357.7 597.3,356.7 597.6,355.8 597.9,354.8 598.2,353.9 598.5,352.9 598.8,351.9 599.1,350.9 599.3,350.0 599.5,349.0 599.8,348.0 600.0,347.0 600.2,346.0 600.4,345.0 600.6,344.1 600.7,343.1" stroke="#111" stroke-width="2.2" stroke-linecap="round" stroke-dasharray="0.6 2.7"/>
<path d="M546.9,253.9 545.7,253.2 544.6,252.4 543.5,251.7 542.3,251.0 541.2,250.3 540.0,249.6 538.8,248.9 537.6,248.2 536.4,247.5 535.1,246.8 533.9,246.1 532.7,245.4 531.4,244.7 530.1,244.0 528.8,243.3 527.5,242.7 526.2,242.0 524.9,241.3 523.5,240.6 522.2,239.9 520.8,239.3 519.4,238.6 518.0,237.9 516.6,237.2 515.2,236.5 513.8,235.9 512.3,235.2 510.9,234.5 509.4,233.9 507.9,233.2 506.4,232.5 504.9,231.9 503.4,231.2 501.9,230.6 500.3,229.9 498.7,229.2 497.2,228.6 495.6,227.9 494.0,227.3" stroke="#111" stroke-width="2.6" stroke-linecap="round" stroke-dasharray="0.6 2.7"/>
<path d="M259.8,239.6 259.7,239.7 259.5,239.9 259.4,240.0 259.2,240.2 259.1,240.3 259.0,240.5 258.8,240.6 258.7,240.8 258.5,241.0 258.4,241.1 258.3,241.3 258.1,241.4 258.0,241.6 257.8,241.8 257.7,241.9 257.5,242.1 257.4,242.2 257.3,242.4 257.1,242.6 257.0,242.7 256.8,242.9 256.7,243.1 256.6,243.2 256.4,243.4 256.3,243.6 256.1,243.7 256.0,243.9 255.8,244.1 255.7,244.2 255.6,244.4 255.4,244.6 255.3,244.8 255.1,244.9 255.0,245.1 254.8,245.3 254.7,245.4 254.6,245.6 254.4,245.8 254.3,246.0" stroke="#111" stroke-width="2.8" stroke-linecap="round" stroke-dasharray="0.6 2.7"/>
<path d="M237.5,286.4 236.8,288.5 236.2,290.6 235.6,292.7 235.0,294.8 234.4,296.9 233.9,299.1 233.5,301.3 233.0,303.5 232.6,305.7 232.2,308.0 231.9,310.2 231.6,312.5 231.3,314.8 231.1,317.1 230.9,319.4 230.8,321.7 230.7,324.1 230.6,326.4 230.6,328.7 230.6,331.0 230.7,333.4 230.8,335.7 230.9,338.0 231.1,340.3 231.3,342.6 231.5,344.9 231.8,347.2 232.2,349.5 232.5,351.7 232.9,354.0 233.3,356.2 233.8,358.4 234.3,360.5 234.9,362.7 235.4,364.8 236.0,366.9 236.6,369.0 237.3,371.1 238.0,373.1" stroke="#111" stroke-width="3.4" stroke-linecap="round" stroke-dasharray="0.6 2.7"/>
<path d="M292.9,444.1 294.2,444.7 295.5,445.3 296.9,445.9 298.3,446.5 299.7,447.1 301.1,447.7 302.5,448.3 304.0,448.8 305.5,449.4 307.1,449.9 308.7,450.5 310.3,451.0 311.9,451.5 313.6,452.0 315.4,452.5 317.1,453.0 318.9,453.5 320.8,453.9 322.7,454.4 324.6,454.8 326.6,455.2 328.6,455.6 330.7,456.0 332.8,456.3 334.9,456.6 337.1,457.0 339.4,457.3 341.6,457.5 343.9,457.8 346.3,458.0 348.7,458.2 351.1,458.4 353.6,458.5 356.1,458.7 358.6,458.7 361.2,458.8 363.8,458.9 366.4,458.9 369.1,458.8" stroke="#111" stroke-width="2.4" stroke-linecap="round" stroke-dasharray="0.6 2.7"/>
<path d="M479.1,435.3 481.5,434.5 483.9,433.6 486.3,432.7 488.6,431.7 491.0,430.8 493.3,429.9 495.5,429.0 497.8,428.1 500.0,427.1 502.2,426.2 504.4,425.3 506.5,424.3 508.6,423.4 510.7,422.4 512.8,421.5 514.8,420.5 516.8,419.6 518.8,418.6 520.8,417.6 522.7,416.7 524.6,415.7 526.5,414.7 528.4,413.8 530.2,412.8 532.0,411.8 533.8,410.8 535.5,409.8 537.2,408.8 538.9,407.8 540.6,406.8 542.3,405.8 543.9,404.8 545.5,403.8 547.0,402.8 548.6,401.8 550.1,400.7 551.6,399.7 553.0,398.6 554.5,397.6" stroke="#111" stroke-width="2.8" stroke-linecap="round" stroke-dasharray="0.6 2.7"/>
<path d="M597.9,329.0 597.9,328.0 597.9,326.9 597.8,325.9 597.8,324.8 597.7,323.8 597.7,322.8 597.6,321.7 597.5,320.7 597.4,319.7 597.3,318.7 597.1,317.6 597.0,316.6 596.8,315.6 596.6,314.6 596.4,313.5 596.2,312.5 596.0,311.5 595.8,310.5 595.5,309.5 595.3,308.5 595.0,307.5 594.7,306.4 594.4,305.4 594.1,304.4 593.8,303.5 593.5,302.5 593.1,301.5 592.8,300.5 592.4,299.5 592.0,298.5 591.6,297.6 591.2,296.6 590.8,295.6 590.3,294.7 589.9,293.7 589.4,292.8 588.9,291.8 588.5,290.9 588.0,289.9 587.4,289.0 586.9,288.1 586.4,287.1 585.8,286.2 585.2,285.3 584.7,284.4 584.1,283.5 583.5,282.6 582.8,281.7 582.2,280.8 581.6,279.9 580.9,279.0 580.2,278.1 579.5,277.3 578.9,276.4 578.1,275.5 577.4,274.7 576.7,273.8 575.9,273.0 575.2,272.2 574.4,271.3 573.6,270.5 572.8,269.7 572.0,268.8 571.2,268.0 570.4,267.2 569.5,266.4 568.7,265.6 567.8,264.8 566.9,264.0 566.0,263.2 565.1,262.5 564.2,261.7 563.3,260.9 562.3,260.1 561.4,259.4 560.4,258.6 559.4,257.9 558.5,257.1 557.5,256.4 556.4,255.6 555.4,254.9 554.4,254.2 553.3,253.4 552.3,252.7 551.2,252.0 550.1,251.2 549.0,250.5 547.9,249.8 546.8,249.1 545.7,248.4 544.5,247.7 543.4,247.0 542.2,246.3 541.0,245.6 539.8,244.9 538.6,244.2 537.4,243.5 536.2,242.8 535.0,242.1 533.7,241.4 532.5,240.8 531.2,240.1 529.9,239.4 528.6,238.7 527.3,238.0 526.0,237.4 524.6,236.7 523.3,236.0 521.9,235.4 520.6,234.7 519.2,234.0 517.8,233.4 516.4,232.7 515.0,232.0 513.6,231.4 512.1,230.7 510.7,230.1 509.2,229.4 507.7,228.7 506.2,228.1 504.7,227.4 503.2,226.8 501.7,226.1 500.2,225.5 498.6,224.9 497.1,224.2 495.5,223.6 493.9,222.9 492.3,222.3 490.7,221.7 489.1,221.0 487.4,220.4 485.8,219.8 484.1,219.2 482.5,218.6 480.8,217.9 479.1,217.3 477.4,216.7 475.7,216.1 474.0,215.5 472.2,214.9 470.5,214.3 468.7,213.8 467.0,213.2 465.2,212.6 463.4,212.0 461.6,211.5 459.8,210.9 458.0,210.4 456.2,209.8 454.3,209.3 452.5,208.8 450.7,208.2 448.8,207.7 446.9,207.2 445.1,206.7 443.2,206.2 441.3,205.7 439.4,205.3 437.5,204.8 435.6,204.3 433.7,203.9 431.8,203.4 429.9,203.0 428.0,202.6 426.0,202.2 424.1,201.8 422.2,201.4 420.3,201.0 418.3,200.7 416.4,200.3 414.5,200.0 412.5,199.7 410.6,199.3 408.7,199.0 406.7,198.7 404.8,198.5 402.9,198.2 400.9,197.9 399.0,197.7 397.1,197.5 395.2,197.3 393.3,197.1 391.4,196.9 389.5,196.7 387.6,196.5 385.7,196.4 383.8,196.2 381.9,196.1 380.1,196.0 378.2,195.9 376.4,195.8 374.6,195.8 372.7,195.7 370.9,195.7 369.1,195.6 367.3,195.6 365.6,195.6 363.8,195.6 362.1,195.7 360.3,195.7 358.6,195.7 356.9,195.8 355.2,195.9 353.5,196.0 351.9,196.1 350.2,196.2 348.6,196.3 347.0,196.4 345.4,196.6 343.8,196.7 342.2,196.9 340.7,197.0 339.2,197.2 337.6,197.4 336.2,197.6 334.7,197.8 333.2,198.1 331.8,198.3 330.4,198.5 329.0,198.8 327.6,199.0 326.2,199.3 324.9,199.6 323.6,199.9 322.2,200.1 321.0,200.4 319.7,200.7 318.4,201.0 317.2,201.4 316.0,201.7 314.8,202.0 313.6,202.3 312.4,202.7 311.3,203.0 310.2,203.4 309.0,203.7 307.9,204.1 306.9,204.4 305.8,204.8 304.7,205.2 303.7,205.5 302.7,205.9 301.7,206.3 300.7,206.7 299.7,207.1 298.7,207.5 297.8,207.9 296.8,208.3 295.9,208.7 295.0,209.1 294.1,209.5 293.2,209.9 292.3,210.4 291.4,210.8 290.5,211.2 289.7,211.6 288.8,212.1 288.0,212.5 287.1,213.0 286.3,213.4 285.4,213.9 284.6,214.3 283.8,214.8 283.0,215.3 282.2,215.8 281.4,216.3 280.6,216.8 279.8,217.3 279.0,217.8 278.2,218.3 277.4,218.8 276.6,219.3 275.8,219.9 275.0,220.4 274.2,221.0 273.4,221.6 272.6,222.1 271.8,222.7 271.0,223.3 270.2,223.9 269.5,224.6 268.7,225.2 267.9,225.8 267.1,226.5 266.3,227.2 265.5,227.9 264.7,228.6 263.8,229.3 263.0,230.0 262.2,230.8 261.4,231.5 260.6,232.3 259.8,233.1 259.0,233.9 258.2,234.8 257.3,235.6 256.5,236.5 255.7,237.4 254.9,238.3 254.1,239.2 253.2,240.2 252.4,241.2 251.6,242.1 250.8,243.2 250.0,244.2 249.1,245.2 248.3,246.3 247.5,247.4 246.7,248.5 245.9,249.7 245.1,250.8 244.3,252.0 243.5,253.2 242.7,254.4 241.9,255.7 241.2,257.0 240.4,258.3 239.6,259.6 238.9,260.9 238.1,262.3 237.4,263.7 236.7,265.1 235.9,266.5 235.2,268.0 234.5,269.4 233.9,270.9 233.2,272.4 232.5,274.0 231.9,275.5 231.3,277.1 230.7,278.7 230.1,280.3 229.5,281.9 228.9,283.6 228.4,285.3 227.9,286.9 227.3,288.7 226.9,290.4 226.4,292.1 225.9,293.9 225.5,295.6 225.1,297.4 224.7,299.2 224.3,301.0 224.0,302.8 223.7,304.6 223.4,306.5 223.1,308.3 222.8,310.1 222.6,312.0 222.4,313.9 222.2,315.8 222.0,317.6 221.9,319.5 221.8,321.4 221.7,323.3 221.7,325.2 221.6,327.1 221.6,329.0 221.6,330.9 221.7,332.8 221.7,334.7 221.8,336.6 221.9,338.5 222.0,340.3 222.2,342.2 222.4,344.1 222.6,346.0 222.8,347.8 223.1,349.7 223.4,351.5 223.7,353.4 224.0,355.2 224.3,357.0 224.7,358.8 225.1,360.6 225.5,362.4 225.9,364.1 226.4,365.9 226.9,367.6 227.3,369.3 227.9,371.0 228.4,372.7 228.9,374.4 229.5,376.0 230.1,377.7 230.7,379.3 231.3,380.9 231.9,382.4 232.5,384.0 233.2,385.5 233.9,387.1 234.5,388.5 235.2,390.0 235.9,391.5 236.7,392.9 237.4,394.3 238.1,395.7 238.9,397.1 239.6,398.4 240.4,399.7 241.2,401.0 241.9,402.3 242.7,403.5 243.5,404.8 244.3,406.0 245.1,407.2 245.9,408.3 246.7,409.5 247.5,410.6 248.3,411.7 249.1,412.7 250.0,413.8 250.8,414.8 251.6,415.8 252.4,416.8 253.2,417.8 254.1,418.7 254.9,419.7 255.7,420.6 256.5,421.5 257.3,422.4 258.2,423.2 259.0,424.0 259.8,424.9 260.6,425.7 261.4,426.4 262.2,427.2 263.0,428.0 263.8,428.7 264.7,429.4 265.5,430.1 266.3,430.8 267.1,431.5 267.9,432.1 268.7,432.8 269.5,433.4 270.2,434.0 271.0,434.7 271.8,435.3 272.6,435.9 273.4,436.4 274.2,437.0 275.0,437.6 275.8,438.1 276.6,438.6 277.4,439.2 278.2,439.7 279.0,440.2 279.8,440.7 280.6,441.2 281.4,441.7 282.2,442.2 283.0,442.7 283.8,443.2 284.6,443.6 285.4,444.1 286.3,444.6 287.1,445.0 288.0,445.5 288.8,445.9 289.7,446.3 290.5,446.8 291.4,447.2 292.3,447.6 293.2,448.1 294.1,448.5 295.0,448.9 295.9,449.3 296.8,449.7 297.8,450.1 298.7,450.5 299.7,450.9 300.7,451.3 301.7,451.7 302.7,452.1 303.7,452.4 304.7,452.8 305.8,453.2 306.9,453.5 307.9,453.9 309.0,454.3 310.2,454.6 311.3,455.0 312.4,455.3 313.6,455.6 314.8,456.0 316.0,456.3 317.2,456.6 318.4,456.9 319.7,457.2 321.0,457.5 322.2,457.8 323.6,458.1 324.9,458.4 326.2,458.7 327.6,458.9 329.0,459.2 330.4,459.5 331.8,459.7 333.2,459.9 334.7,460.1 336.2,460.4 337.6,460.6 339.2,460.8 340.7,460.9 342.2,461.1 343.8,461.3 345.4,461.4 347.0,461.6 348.6,461.7 350.2,461.8 351.9,461.9 353.5,462.0 355.2,462.1 356.9,462.2 358.6,462.2 360.3,462.3 362.1,462.3 363.8,462.4 365.6,462.4 367.3,462.4 369.1,462.3 370.9,462.3 372.7,462.3 374.6,462.2 376.4,462.1 378.2,462.1 380.1,462.0 381.9,461.9 383.8,461.7 385.7,461.6 387.6,461.5 389.5,461.3 391.4,461.1 393.3,460.9 395.2,460.7 397.1,460.5 399.0,460.3 400.9,460.0 402.9,459.8 404.8,459.5 406.7,459.2 408.7,458.9 410.6,458.6 412.5,458.3 414.5,458.0 416.4,457.7 418.3,457.3 420.3,456.9 422.2,456.6 424.1,456.2 426.0,455.8 428.0,455.4 429.9,455.0 431.8,454.5 433.7,454.1 435.6,453.6 437.5,453.2 439.4,452.7 441.3,452.3 443.2,451.8 445.1,451.3 446.9,450.8 448.8,450.3 450.7,449.8 452.5,449.2 454.3,448.7 456.2,448.2 458.0,447.6 459.8,447.1 461.6,446.5 463.4,445.9 465.2,445.4 467.0,444.8 468.7,444.2 470.5,443.6 472.2,443.1 474.0,442.5 475.7,441.9 477.4,441.3 479.1,440.7 480.8,440.0 482.5,439.4 484.1,438.8 485.8,438.2 487.4,437.6 489.1,436.9 490.7,436.3 492.3,435.7 493.9,435.0 495.5,434.4 497.1,433.8 498.6,433.1 500.2,432.5 501.7,431.8 503.2,431.2 504.7,430.5 506.2,429.9 507.7,429.2 509.2,428.6 510.7,427.9 512.1,427.3 513.6,426.6 515.0,426.0 516.4,425.3 517.8,424.6 519.2,424.0 520.6,423.3 521.9,422.6 523.3,422.0 524.6,421.3 526.0,420.6 527.3,419.9 528.6,419.3 529.9,418.6 531.2,417.9 532.5,417.2 533.7,416.5 535.0,415.9 536.2,415.2 537.4,414.5 538.6,413.8 539.8,413.1 541.0,412.4 542.2,411.7 543.4,411.0 544.5,410.3 545.7,409.6 546.8,408.9 547.9,408.2 549.0,407.5 550.1,406.7 551.2,406.0 552.3,405.3 553.3,404.6 554.4,403.8 555.4,403.1 556.4,402.4 557.5,401.6 558.5,400.9 559.4,400.1 560.4,399.4 561.4,398.6 562.3,397.8 563.3,397.1 564.2,396.3 565.1,395.5 566.0,394.7 566.9,394.0 567.8,393.2 568.7,392.4 569.5,391.6 570.4,390.8 571.2,390.0 572.0,389.1 572.8,388.3 573.6,387.5 574.4,386.7 575.2,385.8 575.9,385.0 576.7,384.1 577.4,383.3 578.1,382.4 578.9,381.6 579.5,380.7 580.2,379.8 580.9,379.0 581.6,378.1 582.2,377.2 582.8,376.3 583.5,375.4 584.1,374.5 584.7,373.6 585.2,372.7 585.8,371.8 586.4,370.9 586.9,369.9 587.4,369.0 588.0,368.1 588.5,367.1 588.9,366.2 589.4,365.2 589.9,364.3 590.3,363.3 590.8,362.4 591.2,361.4 591.6,360.4 592.0,359.5 592.4,358.5 592.8,357.5 593.1,356.5 593.5,355.5 593.8,354.5 594.1,353.5 594.4,352.5 594.7,351.5 595.0,350.5 595.3,349.5 595.5,348.5 595.8,347.5 596.0,346.5 596.2,345.5 596.4,344.5 596.6,343.4 596.8,342.4 597.0,341.4 597.1,340.4 597.3,339.3 597.4,338.3 597.5,337.3 597.6,336.2 597.7,335.2 597.7,334.2 597.8,333.1 597.8,332.1 597.9,331.1 597.9,330.0 Z" stroke="#ee1111" stroke-width="4.2"/>
</g>
<rect x="137.0" y="55.0" width="584.0" height="549.8" fill="none" stroke="#262626" stroke-width="2.8"/>
<path d="M238.9,604.8V597.8M238.9,55.0V62.0M376.5,604.8V597.8M376.5,55.0V62.0M514.1,604.8V597.8M514.1,55.0V62.0M651.7,604.8V597.8M651.7,55.0V62.0M137.0,467.5H144.0M721.0,467.5H714.0M137.0,330.0H144.0M721.0,330.0H714.0M137.0,192.5H144.0M721.0,192.5H714.0" stroke="#262626" stroke-width="2.6" fill="none"/>
<path d="M992.7,51.5V608.0M1104.1,51.5V608.0M1215.6,51.5V608.0M1327.0,51.5V608.0M881.2,597.0H1438.5M881.2,541.3H1438.5M881.2,485.6H1438.5M881.2,429.9H1438.5M881.2,374.2H1438.5M881.2,318.5H1438.5M881.2,262.8H1438.5M881.2,207.1H1438.5M881.2,151.4H1438.5M881.2,95.7H1438.5" stroke="#dadada" stroke-width="1.9" fill="none"/>
<g stroke="#f23a3a" stroke-width="5.5" stroke-dasharray="22.2 22.2" fill="none">
<path d="M881.2,95.7H1438.5"/>
<path d="M881.2,467.0H1438.5"/>
</g>
<g fill="#0000ff"><circle cx="906.2" cy="163.9" r="7.4"/><circle cx="929.8" cy="171.5" r="7.4"/><circle cx="952.8" cy="172.8" r="7.4"/><circle cx="976.3" cy="181.7" r="7.4"/><circle cx="999.3" cy="184.0" r="7.4"/><circle cx="1022.3" cy="192.9" r="7.4"/><circle cx="1044.5" cy="203.3" r="7.4"/><circle cx="1067.3" cy="212.4" r="7.4"/><circle cx="1089.7" cy="223.6" r="7.4"/><circle cx="1111.3" cy="232.7" r="7.4"/><circle cx="1134.8" cy="243.7" r="7.4"/><circle cx="1157.3" cy="252.6" r="7.4"/><circle cx="1179.6" cy="263.7" r="7.4"/><circle cx="1200.9" cy="272.8" r="7.4"/><circle cx="1223.0" cy="284.2" r="7.4"/><circle cx="1245.4" cy="293.1" r="7.4"/><circle cx="1267.7" cy="304.1" r="7.4"/><circle cx="1289.9" cy="312.4" r="7.4"/><circle cx="1311.6" cy="321.7" r="7.4"/><circle cx="1332.9" cy="325.0" r="7.4"/><circle cx="1354.6" cy="332.6" r="7.4"/><circle cx="1376.2" cy="341.1" r="7.4"/><circle cx="1396.8" cy="344.4" r="7.4"/><circle cx="1418.2" cy="351.7" r="7.4"/><circle cx="1438.8" cy="352.9" r="7.4"/></g>
<rect x="881.2" y="51.5" width="557.3" height="556.5" fill="none" stroke="#262626" stroke-width="2.8"/>
<path d="M881.2,608.0V601.0M881.2,51.5V58.5M992.7,608.0V601.0M992.7,51.5V58.5M1104.1,608.0V601.0M1104.1,51.5V58.5M1215.6,608.0V601.0M1215.6,51.5V58.5M1327.0,608.0V601.0M1327.0,51.5V58.5M1438.5,608.0V601.0M1438.5,51.5V58.5M881.2,597.0H888.2M1438.5,597.0H1431.5M881.2,541.3H888.2M1438.5,541.3H1431.5M881.2,485.6H888.2M1438.5,485.6H1431.5M881.2,429.9H888.2M1438.5,429.9H1431.5M881.2,374.2H888.2M1438.5,374.2H1431.5M881.2,318.5H888.2M1438.5,318.5H1431.5M881.2,262.8H888.2M1438.5,262.8H1431.5M881.2,207.1H888.2M1438.5,207.1H1431.5M881.2,151.4H888.2M1438.5,151.4H1431.5M881.2,95.7H888.2M1438.5,95.7H1431.5" stroke="#262626" stroke-width="2.6" fill="none"/>
<text transform="translate(32.51,34.25) scale(0.8837,1)" font-size="35" font-family="Liberation Sans, sans-serif" fill="#242424">(a)</text>
<path d="M397.4,25.7H418.4M397.4,34.3H418.4" stroke="#1e1e1e" stroke-width="3.1" fill="none"/>
<text transform="translate(420.30,40.90)" font-size="43.5" font-family="Liberation Sans, sans-serif" fill="#242424">90</text>
<text transform="translate(467.35,19.90)" font-size="32.5" font-family="Liberation Sans, sans-serif" fill="#242424">o</text>
<text transform="translate(63.40,71.42)" font-size="44" font-family="Liberation Sans, sans-serif" font-weight="bold" fill="#242424" stroke="#242424" stroke-width="0.3">0.4</text>
<text transform="translate(64.90,208.87)" font-size="44" font-family="Liberation Sans, sans-serif" font-weight="bold" fill="#242424" stroke="#242424" stroke-width="0.3">0.2</text>
<text transform="translate(101.65,346.32)" font-size="44" font-family="Liberation Sans, sans-serif" font-weight="bold" fill="#242424" stroke="#242424" stroke-width="0.3">0</text>
<text transform="translate(50.40,483.78)" font-size="44" font-family="Liberation Sans, sans-serif" font-weight="bold" fill="#242424" stroke="#242424" stroke-width="0.3">-0.2</text>
<text transform="translate(48.90,621.23)" font-size="44" font-family="Liberation Sans, sans-serif" font-weight="bold" fill="#242424" stroke="#242424" stroke-width="0.3">-0.4</text>
<text transform="translate(208.15,656.70)" font-size="44" font-family="Liberation Sans, sans-serif" font-weight="bold" fill="#242424" stroke="#242424" stroke-width="0.3">0.6</text>
<text transform="translate(345.63,656.70)" font-size="44" font-family="Liberation Sans, sans-serif" font-weight="bold" fill="#242424" stroke="#242424" stroke-width="0.3">0.8</text>
<text transform="translate(501.10,657.20)" font-size="44" font-family="Liberation Sans, sans-serif" font-weight="bold" fill="#242424" stroke="#242424" stroke-width="0.3">1</text>
<text transform="translate(620.58,657.20)" font-size="44" font-family="Liberation Sans, sans-serif" font-weight="bold" fill="#242424" stroke="#242424" stroke-width="0.3">1.2</text>
<text transform="translate(369.93,711.70) scale(1.0228,1)" font-size="45" font-family="Liberation Sans, sans-serif" font-weight="bold" fill="#242424" stroke="#242424" stroke-width="0.3">R [m]</text>
<text transform="translate(35.20,386.39) rotate(-90) scale(1.0287,1)" font-size="45" font-family="Liberation Sans, sans-serif" font-weight="bold" fill="#242424" stroke="#242424" stroke-width="0.3">Z [m]</text>
<path d="M374,32.4 C374,27 380,23.3 386.2,23.3 C390.5,23.3 392.9,26.5 392.9,30.6 C392.9,35.8 386.8,39.8 380.7,39.8 C376.4,39.8 374,36.8 374,32.4 Z" fill="none" stroke="#1e1e1e" stroke-width="2.1"/>
<path d="M388.4,12.2 L379.1,48.3" fill="none" stroke="#333" stroke-width="1.7" stroke-linecap="round"/>
<text transform="translate(801.58,37.35) scale(0.9412,1)" font-size="35" font-family="Liberation Sans, sans-serif" fill="#242424">(b)</text>
<text transform="translate(817.00,607.50)" font-size="29" font-family="Liberation Sans, sans-serif" font-weight="bold" fill="#242424" stroke="#242424" stroke-width="0.3">0.31</text>
<text transform="translate(817.25,551.80)" font-size="29" font-family="Liberation Sans, sans-serif" font-weight="bold" fill="#242424" stroke="#242424" stroke-width="0.3">0.32</text>
<text transform="translate(817.25,496.10)" font-size="29" font-family="Liberation Sans, sans-serif" font-weight="bold" fill="#242424" stroke="#242424" stroke-width="0.3">0.33</text>
<text transform="translate(816.25,440.40)" font-size="29" font-family="Liberation Sans, sans-serif" font-weight="bold" fill="#242424" stroke="#242424" stroke-width="0.3">0.34</text>
<text transform="translate(817.00,384.70)" font-size="29" font-family="Liberation Sans, sans-serif" font-weight="bold" fill="#242424" stroke="#242424" stroke-width="0.3">0.35</text>
<text transform="translate(817.25,329.00)" font-size="29" font-family="Liberation Sans, sans-serif" font-weight="bold" fill="#242424" stroke="#242424" stroke-width="0.3">0.36</text>
<text transform="translate(817.25,273.30)" font-size="29" font-family="Liberation Sans, sans-serif" font-weight="bold" fill="#242424" stroke="#242424" stroke-width="0.3">0.37</text>
<text transform="translate(817.00,217.60)" font-size="29" font-family="Liberation Sans, sans-serif" font-weight="bold" fill="#242424" stroke="#242424" stroke-width="0.3">0.38</text>
<text transform="translate(817.25,161.90)" font-size="29" font-family="Liberation Sans, sans-serif" font-weight="bold" fill="#242424" stroke="#242424" stroke-width="0.3">0.39</text>
<text transform="translate(832.25,106.20)" font-size="29" font-family="Liberation Sans, sans-serif" font-weight="bold" fill="#242424" stroke="#242424" stroke-width="0.3">0.4</text>
<text transform="translate(872.20,643.75)" font-size="29" font-family="Liberation Sans, sans-serif" font-weight="bold" fill="#242424" stroke="#242424" stroke-width="0.3">0</text>
<text transform="translate(971.54,643.75)" font-size="29" font-family="Liberation Sans, sans-serif" font-weight="bold" fill="#242424" stroke="#242424" stroke-width="0.3">0.2</text>
<text transform="translate(1082.50,643.75)" font-size="29" font-family="Liberation Sans, sans-serif" font-weight="bold" fill="#242424" stroke="#242424" stroke-width="0.3">0.4</text>
<text transform="translate(1194.45,643.75)" font-size="29" font-family="Liberation Sans, sans-serif" font-weight="bold" fill="#242424" stroke="#242424" stroke-width="0.3">0.6</text>
<text transform="translate(1305.79,643.75)" font-size="29" font-family="Liberation Sans, sans-serif" font-weight="bold" fill="#242424" stroke="#242424" stroke-width="0.3">0.8</text>
<text transform="translate(1429.00,644.00)" font-size="29" font-family="Liberation Sans, sans-serif" font-weight="bold" fill="#242424" stroke="#242424" stroke-width="0.3">1</text>
<path d="M1155.4,690 C1155.3,681 1160,676.2 1164.8,676.2 C1169,676.2 1171,679.5 1170.6,683.2 C1170,689.5 1165.5,694.4 1160.5,694.4 C1157.5,694.4 1155.8,692.5 1155.5,690 M1156.3,685 L1150.8,705.3" fill="none" stroke="#1e1e1e" stroke-width="3.6" stroke-linecap="round"/>
<path d="M784.6,328.6 L797.5,332.8 C802.5,334.6 805.6,333.2 805.4,330 C805.2,327 802,324.6 798.2,323.2" fill="none" stroke="#1e1e1e" stroke-width="3.2" stroke-linecap="round"/>
<path d="M902.8,70.6 L900.2,79.6 Q899.5,82.6 901.8,82.4 Q903.9,82.0 905.8,79.2" fill="none" stroke="#1e1e1e" stroke-width="2.8" stroke-linecap="round"/>
<text transform="translate(908.05,84.88) scale(0.9455,1)" font-size="27" font-family="Liberation Sans, sans-serif" font-weight="bold" fill="#242424" stroke="#242424" stroke-width="0.3">=</text>
<text transform="translate(923.80,82.90)" font-size="27.5" font-family="Liberation Sans, sans-serif" font-weight="bold" fill="#242424" stroke="#242424" stroke-width="0.3">2</text>
<text transform="translate(939.60,82.80)" font-size="27.5" font-family="Liberation Sans, sans-serif" font-weight="bold" font-style="italic" fill="#242424" stroke="#242424" stroke-width="0.3">/</text>
<text transform="translate(950.25,82.65)" font-size="27.5" font-family="Liberation Sans, sans-serif" font-weight="bold" fill="#242424" stroke="#242424" stroke-width="0.3">5</text>
<path d="M912.8,445.6 L910.2,454.6 Q909.5,457.6 911.8,457.4 Q913.9,457.0 915.8,454.2" fill="none" stroke="#1e1e1e" stroke-width="2.8" stroke-linecap="round"/>
<text transform="translate(918.05,459.88) scale(0.9455,1)" font-size="27" font-family="Liberation Sans, sans-serif" font-weight="bold" fill="#242424" stroke="#242424" stroke-width="0.3">=</text>
<text transform="translate(933.80,457.90)" font-size="27.5" font-family="Liberation Sans, sans-serif" font-weight="bold" fill="#242424" stroke="#242424" stroke-width="0.3">2</text>
<text transform="translate(949.60,457.80)" font-size="27.5" font-family="Liberation Sans, sans-serif" font-weight="bold" font-style="italic" fill="#242424" stroke="#242424" stroke-width="0.3">/</text>
<text transform="translate(960.20,457.65)" font-size="27.5" font-family="Liberation Sans, sans-serif" font-weight="bold" fill="#242424" stroke="#242424" stroke-width="0.3">6</text>
</svg>
</body></html>
